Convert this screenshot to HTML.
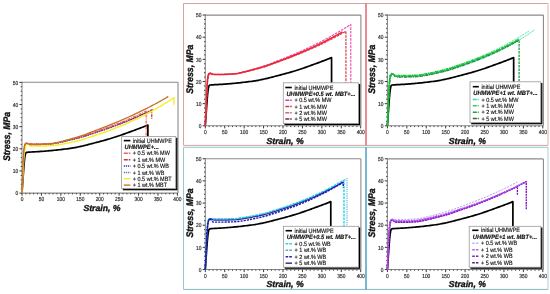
<!DOCTYPE html>
<html><head><meta charset="utf-8"><title>Stress-strain curves</title>
<style>
html,body{margin:0;padding:0;background:#fff;}
body{width:550px;height:294px;overflow:hidden;}
svg{display:block;font-family:"Liberation Sans", Arial, sans-serif;text-rendering:geometricPrecision;}
</style></head><body>
<svg width="550" height="294" viewBox="0 0 550 294">
<rect width="550" height="294" fill="#fff"/>
<line x1="183.5" y1="3.5" x2="548" y2="3.5" stroke="#d6a4a0" stroke-width="1"/>
<line x1="183.5" y1="145.4" x2="366" y2="145.4" stroke="#d6a4a0" stroke-width="1"/>
<line x1="366" y1="145.4" x2="548" y2="145.4" stroke="#d6a4a0" stroke-width="1"/>
<line x1="183.5" y1="3.5" x2="183.5" y2="145.4" stroke="#d6a4a0" stroke-width="1"/>
<line x1="548" y1="3.5" x2="548" y2="145.4" stroke="#dcb2b0" stroke-width="1"/>
<line x1="366" y1="3.5" x2="366" y2="145.4" stroke="#e66470" stroke-width="1.5"/>
<line x1="183.5" y1="147.3" x2="548" y2="147.3" stroke="#96c8cc" stroke-width="1"/>
<line x1="183.5" y1="289.4" x2="548" y2="289.4" stroke="#82b8c4" stroke-width="1"/>
<line x1="183.5" y1="147.3" x2="183.5" y2="289.4" stroke="#96c8cc" stroke-width="1"/>
<line x1="548" y1="147.3" x2="548" y2="289.4" stroke="#a8d0d8" stroke-width="1"/>
<line x1="366" y1="147.3" x2="366" y2="289.4" stroke="#4aa0c8" stroke-width="1.5"/>
<line x1="22" y1="82.3" x2="178" y2="82.3" stroke="#8a8a8a" stroke-width="1.1"/>
<line x1="178" y1="82.3" x2="178" y2="193.1" stroke="#8a8a8a" stroke-width="1.1"/>
<line x1="22" y1="81.8" x2="22" y2="193.6" stroke="#8a8a8a" stroke-width="1.1"/>
<line x1="22" y1="193.1" x2="178" y2="193.1" stroke="#8a8a8a" stroke-width="1.1"/>
<line x1="19.4" y1="193.1" x2="22" y2="193.1" stroke="#222" stroke-width="0.9"/>
<text x="0" y="0" transform="translate(18.1 195.3) scale(0.84 1)" font-size="5.8" text-anchor="end" font-weight="normal" font-style="normal" fill="#2a2a2a" stroke="#2a2a2a" stroke-width="0.18">0</text>
<line x1="20.7" y1="188.67" x2="22" y2="188.67" stroke="#333" stroke-width="0.9"/>
<line x1="20.7" y1="184.24" x2="22" y2="184.24" stroke="#333" stroke-width="0.9"/>
<line x1="20.7" y1="179.81" x2="22" y2="179.81" stroke="#333" stroke-width="0.9"/>
<line x1="20.7" y1="175.38" x2="22" y2="175.38" stroke="#333" stroke-width="0.9"/>
<line x1="19.4" y1="170.95" x2="22" y2="170.95" stroke="#222" stroke-width="0.9"/>
<text x="0" y="0" transform="translate(18.1 173.15) scale(0.84 1)" font-size="5.8" text-anchor="end" font-weight="normal" font-style="normal" fill="#2a2a2a" stroke="#2a2a2a" stroke-width="0.18">10</text>
<line x1="20.7" y1="166.52" x2="22" y2="166.52" stroke="#333" stroke-width="0.9"/>
<line x1="20.7" y1="162.09" x2="22" y2="162.09" stroke="#333" stroke-width="0.9"/>
<line x1="20.7" y1="157.66" x2="22" y2="157.66" stroke="#333" stroke-width="0.9"/>
<line x1="20.7" y1="153.23" x2="22" y2="153.23" stroke="#333" stroke-width="0.9"/>
<line x1="19.4" y1="148.8" x2="22" y2="148.8" stroke="#222" stroke-width="0.9"/>
<text x="0" y="0" transform="translate(18.1 151) scale(0.84 1)" font-size="5.8" text-anchor="end" font-weight="normal" font-style="normal" fill="#2a2a2a" stroke="#2a2a2a" stroke-width="0.18">20</text>
<line x1="20.7" y1="144.37" x2="22" y2="144.37" stroke="#333" stroke-width="0.9"/>
<line x1="20.7" y1="139.94" x2="22" y2="139.94" stroke="#333" stroke-width="0.9"/>
<line x1="20.7" y1="135.51" x2="22" y2="135.51" stroke="#333" stroke-width="0.9"/>
<line x1="20.7" y1="131.08" x2="22" y2="131.08" stroke="#333" stroke-width="0.9"/>
<line x1="19.4" y1="126.65" x2="22" y2="126.65" stroke="#222" stroke-width="0.9"/>
<text x="0" y="0" transform="translate(18.1 128.85) scale(0.84 1)" font-size="5.8" text-anchor="end" font-weight="normal" font-style="normal" fill="#2a2a2a" stroke="#2a2a2a" stroke-width="0.18">30</text>
<line x1="20.7" y1="122.22" x2="22" y2="122.22" stroke="#333" stroke-width="0.9"/>
<line x1="20.7" y1="117.79" x2="22" y2="117.79" stroke="#333" stroke-width="0.9"/>
<line x1="20.7" y1="113.36" x2="22" y2="113.36" stroke="#333" stroke-width="0.9"/>
<line x1="20.7" y1="108.93" x2="22" y2="108.93" stroke="#333" stroke-width="0.9"/>
<line x1="19.4" y1="104.5" x2="22" y2="104.5" stroke="#222" stroke-width="0.9"/>
<text x="0" y="0" transform="translate(18.1 106.7) scale(0.84 1)" font-size="5.8" text-anchor="end" font-weight="normal" font-style="normal" fill="#2a2a2a" stroke="#2a2a2a" stroke-width="0.18">40</text>
<line x1="20.7" y1="100.07" x2="22" y2="100.07" stroke="#333" stroke-width="0.9"/>
<line x1="20.7" y1="95.64" x2="22" y2="95.64" stroke="#333" stroke-width="0.9"/>
<line x1="20.7" y1="91.21" x2="22" y2="91.21" stroke="#333" stroke-width="0.9"/>
<line x1="20.7" y1="86.78" x2="22" y2="86.78" stroke="#333" stroke-width="0.9"/>
<line x1="19.4" y1="82.35" x2="22" y2="82.35" stroke="#222" stroke-width="0.9"/>
<text x="0" y="0" transform="translate(18.1 84.55) scale(0.84 1)" font-size="5.8" text-anchor="end" font-weight="normal" font-style="normal" fill="#2a2a2a" stroke="#2a2a2a" stroke-width="0.18">50</text>
<line x1="22" y1="193.1" x2="22" y2="195.7" stroke="#222" stroke-width="0.9"/>
<text x="0" y="0" transform="translate(22 201.1) scale(0.84 1)" font-size="5.8" text-anchor="middle" font-weight="normal" font-style="normal" fill="#2a2a2a" stroke="#2a2a2a" stroke-width="0.18">0</text>
<line x1="25.89" y1="193.1" x2="25.89" y2="194.4" stroke="#333" stroke-width="0.9"/>
<line x1="29.77" y1="193.1" x2="29.77" y2="194.4" stroke="#333" stroke-width="0.9"/>
<line x1="33.66" y1="193.1" x2="33.66" y2="194.4" stroke="#333" stroke-width="0.9"/>
<line x1="37.54" y1="193.1" x2="37.54" y2="194.4" stroke="#333" stroke-width="0.9"/>
<line x1="41.42" y1="193.1" x2="41.42" y2="195.7" stroke="#222" stroke-width="0.9"/>
<text x="0" y="0" transform="translate(41.42 201.1) scale(0.84 1)" font-size="5.8" text-anchor="middle" font-weight="normal" font-style="normal" fill="#2a2a2a" stroke="#2a2a2a" stroke-width="0.18">50</text>
<line x1="45.31" y1="193.1" x2="45.31" y2="194.4" stroke="#333" stroke-width="0.9"/>
<line x1="49.2" y1="193.1" x2="49.2" y2="194.4" stroke="#333" stroke-width="0.9"/>
<line x1="53.08" y1="193.1" x2="53.08" y2="194.4" stroke="#333" stroke-width="0.9"/>
<line x1="56.97" y1="193.1" x2="56.97" y2="194.4" stroke="#333" stroke-width="0.9"/>
<line x1="60.85" y1="193.1" x2="60.85" y2="195.7" stroke="#222" stroke-width="0.9"/>
<text x="0" y="0" transform="translate(60.85 201.1) scale(0.84 1)" font-size="5.8" text-anchor="middle" font-weight="normal" font-style="normal" fill="#2a2a2a" stroke="#2a2a2a" stroke-width="0.18">100</text>
<line x1="64.73" y1="193.1" x2="64.73" y2="194.4" stroke="#333" stroke-width="0.9"/>
<line x1="68.62" y1="193.1" x2="68.62" y2="194.4" stroke="#333" stroke-width="0.9"/>
<line x1="72.5" y1="193.1" x2="72.5" y2="194.4" stroke="#333" stroke-width="0.9"/>
<line x1="76.39" y1="193.1" x2="76.39" y2="194.4" stroke="#333" stroke-width="0.9"/>
<line x1="80.28" y1="193.1" x2="80.28" y2="195.7" stroke="#222" stroke-width="0.9"/>
<text x="0" y="0" transform="translate(80.28 201.1) scale(0.84 1)" font-size="5.8" text-anchor="middle" font-weight="normal" font-style="normal" fill="#2a2a2a" stroke="#2a2a2a" stroke-width="0.18">150</text>
<line x1="84.16" y1="193.1" x2="84.16" y2="194.4" stroke="#333" stroke-width="0.9"/>
<line x1="88.05" y1="193.1" x2="88.05" y2="194.4" stroke="#333" stroke-width="0.9"/>
<line x1="91.93" y1="193.1" x2="91.93" y2="194.4" stroke="#333" stroke-width="0.9"/>
<line x1="95.81" y1="193.1" x2="95.81" y2="194.4" stroke="#333" stroke-width="0.9"/>
<line x1="99.7" y1="193.1" x2="99.7" y2="195.7" stroke="#222" stroke-width="0.9"/>
<text x="0" y="0" transform="translate(99.7 201.1) scale(0.84 1)" font-size="5.8" text-anchor="middle" font-weight="normal" font-style="normal" fill="#2a2a2a" stroke="#2a2a2a" stroke-width="0.18">200</text>
<line x1="103.59" y1="193.1" x2="103.59" y2="194.4" stroke="#333" stroke-width="0.9"/>
<line x1="107.47" y1="193.1" x2="107.47" y2="194.4" stroke="#333" stroke-width="0.9"/>
<line x1="111.36" y1="193.1" x2="111.36" y2="194.4" stroke="#333" stroke-width="0.9"/>
<line x1="115.24" y1="193.1" x2="115.24" y2="194.4" stroke="#333" stroke-width="0.9"/>
<line x1="119.12" y1="193.1" x2="119.12" y2="195.7" stroke="#222" stroke-width="0.9"/>
<text x="0" y="0" transform="translate(119.12 201.1) scale(0.84 1)" font-size="5.8" text-anchor="middle" font-weight="normal" font-style="normal" fill="#2a2a2a" stroke="#2a2a2a" stroke-width="0.18">250</text>
<line x1="123.01" y1="193.1" x2="123.01" y2="194.4" stroke="#333" stroke-width="0.9"/>
<line x1="126.9" y1="193.1" x2="126.9" y2="194.4" stroke="#333" stroke-width="0.9"/>
<line x1="130.78" y1="193.1" x2="130.78" y2="194.4" stroke="#333" stroke-width="0.9"/>
<line x1="134.67" y1="193.1" x2="134.67" y2="194.4" stroke="#333" stroke-width="0.9"/>
<line x1="138.55" y1="193.1" x2="138.55" y2="195.7" stroke="#222" stroke-width="0.9"/>
<text x="0" y="0" transform="translate(138.55 201.1) scale(0.84 1)" font-size="5.8" text-anchor="middle" font-weight="normal" font-style="normal" fill="#2a2a2a" stroke="#2a2a2a" stroke-width="0.18">300</text>
<line x1="142.44" y1="193.1" x2="142.44" y2="194.4" stroke="#333" stroke-width="0.9"/>
<line x1="146.32" y1="193.1" x2="146.32" y2="194.4" stroke="#333" stroke-width="0.9"/>
<line x1="150.21" y1="193.1" x2="150.21" y2="194.4" stroke="#333" stroke-width="0.9"/>
<line x1="154.09" y1="193.1" x2="154.09" y2="194.4" stroke="#333" stroke-width="0.9"/>
<line x1="157.97" y1="193.1" x2="157.97" y2="195.7" stroke="#222" stroke-width="0.9"/>
<text x="0" y="0" transform="translate(157.97 201.1) scale(0.84 1)" font-size="5.8" text-anchor="middle" font-weight="normal" font-style="normal" fill="#2a2a2a" stroke="#2a2a2a" stroke-width="0.18">350</text>
<line x1="161.86" y1="193.1" x2="161.86" y2="194.4" stroke="#333" stroke-width="0.9"/>
<line x1="165.75" y1="193.1" x2="165.75" y2="194.4" stroke="#333" stroke-width="0.9"/>
<line x1="169.63" y1="193.1" x2="169.63" y2="194.4" stroke="#333" stroke-width="0.9"/>
<line x1="173.52" y1="193.1" x2="173.52" y2="194.4" stroke="#333" stroke-width="0.9"/>
<line x1="177.4" y1="193.1" x2="177.4" y2="195.7" stroke="#222" stroke-width="0.9"/>
<text x="0" y="0" transform="translate(177.4 201.1) scale(0.84 1)" font-size="5.8" text-anchor="middle" font-weight="normal" font-style="normal" fill="#2a2a2a" stroke="#2a2a2a" stroke-width="0.18">400</text>
<text x="102" y="210.9" font-size="8.7" text-anchor="middle" font-weight="bold" font-style="italic" fill="#111" stroke="#111" stroke-width="0.35">Strain, %</text>
<text x="0" y="0" font-size="9.6" text-anchor="middle" font-weight="bold" font-style="italic" fill="#111" stroke="#111" stroke-width="0.35" transform="translate(9.6 136.5) rotate(-90) scale(0.905 1)">Stress, MPa</text>
<line x1="205.3" y1="15.1" x2="360.9" y2="15.1" stroke="#8a8a8a" stroke-width="1.1"/>
<line x1="360.9" y1="15.1" x2="360.9" y2="125.8" stroke="#8a8a8a" stroke-width="1.1"/>
<line x1="205.3" y1="14.6" x2="205.3" y2="126.3" stroke="#8a8a8a" stroke-width="1.1"/>
<line x1="205.3" y1="125.8" x2="360.9" y2="125.8" stroke="#8a8a8a" stroke-width="1.1"/>
<line x1="202.7" y1="125.8" x2="205.3" y2="125.8" stroke="#222" stroke-width="0.9"/>
<text x="0" y="0" transform="translate(201.4 128) scale(0.84 1)" font-size="5.8" text-anchor="end" font-weight="normal" font-style="normal" fill="#2a2a2a" stroke="#2a2a2a" stroke-width="0.18">0</text>
<line x1="204" y1="121.37" x2="205.3" y2="121.37" stroke="#333" stroke-width="0.9"/>
<line x1="204" y1="116.94" x2="205.3" y2="116.94" stroke="#333" stroke-width="0.9"/>
<line x1="204" y1="112.51" x2="205.3" y2="112.51" stroke="#333" stroke-width="0.9"/>
<line x1="204" y1="108.08" x2="205.3" y2="108.08" stroke="#333" stroke-width="0.9"/>
<line x1="202.7" y1="103.65" x2="205.3" y2="103.65" stroke="#222" stroke-width="0.9"/>
<text x="0" y="0" transform="translate(201.4 105.85) scale(0.84 1)" font-size="5.8" text-anchor="end" font-weight="normal" font-style="normal" fill="#2a2a2a" stroke="#2a2a2a" stroke-width="0.18">10</text>
<line x1="204" y1="99.22" x2="205.3" y2="99.22" stroke="#333" stroke-width="0.9"/>
<line x1="204" y1="94.79" x2="205.3" y2="94.79" stroke="#333" stroke-width="0.9"/>
<line x1="204" y1="90.36" x2="205.3" y2="90.36" stroke="#333" stroke-width="0.9"/>
<line x1="204" y1="85.93" x2="205.3" y2="85.93" stroke="#333" stroke-width="0.9"/>
<line x1="202.7" y1="81.5" x2="205.3" y2="81.5" stroke="#222" stroke-width="0.9"/>
<text x="0" y="0" transform="translate(201.4 83.7) scale(0.84 1)" font-size="5.8" text-anchor="end" font-weight="normal" font-style="normal" fill="#2a2a2a" stroke="#2a2a2a" stroke-width="0.18">20</text>
<line x1="204" y1="77.07" x2="205.3" y2="77.07" stroke="#333" stroke-width="0.9"/>
<line x1="204" y1="72.64" x2="205.3" y2="72.64" stroke="#333" stroke-width="0.9"/>
<line x1="204" y1="68.21" x2="205.3" y2="68.21" stroke="#333" stroke-width="0.9"/>
<line x1="204" y1="63.78" x2="205.3" y2="63.78" stroke="#333" stroke-width="0.9"/>
<line x1="202.7" y1="59.35" x2="205.3" y2="59.35" stroke="#222" stroke-width="0.9"/>
<text x="0" y="0" transform="translate(201.4 61.55) scale(0.84 1)" font-size="5.8" text-anchor="end" font-weight="normal" font-style="normal" fill="#2a2a2a" stroke="#2a2a2a" stroke-width="0.18">30</text>
<line x1="204" y1="54.92" x2="205.3" y2="54.92" stroke="#333" stroke-width="0.9"/>
<line x1="204" y1="50.49" x2="205.3" y2="50.49" stroke="#333" stroke-width="0.9"/>
<line x1="204" y1="46.06" x2="205.3" y2="46.06" stroke="#333" stroke-width="0.9"/>
<line x1="204" y1="41.63" x2="205.3" y2="41.63" stroke="#333" stroke-width="0.9"/>
<line x1="202.7" y1="37.2" x2="205.3" y2="37.2" stroke="#222" stroke-width="0.9"/>
<text x="0" y="0" transform="translate(201.4 39.4) scale(0.84 1)" font-size="5.8" text-anchor="end" font-weight="normal" font-style="normal" fill="#2a2a2a" stroke="#2a2a2a" stroke-width="0.18">40</text>
<line x1="204" y1="32.77" x2="205.3" y2="32.77" stroke="#333" stroke-width="0.9"/>
<line x1="204" y1="28.34" x2="205.3" y2="28.34" stroke="#333" stroke-width="0.9"/>
<line x1="204" y1="23.91" x2="205.3" y2="23.91" stroke="#333" stroke-width="0.9"/>
<line x1="204" y1="19.48" x2="205.3" y2="19.48" stroke="#333" stroke-width="0.9"/>
<line x1="202.7" y1="15.05" x2="205.3" y2="15.05" stroke="#222" stroke-width="0.9"/>
<text x="0" y="0" transform="translate(201.4 17.25) scale(0.84 1)" font-size="5.8" text-anchor="end" font-weight="normal" font-style="normal" fill="#2a2a2a" stroke="#2a2a2a" stroke-width="0.18">50</text>
<line x1="205.3" y1="125.8" x2="205.3" y2="128.4" stroke="#222" stroke-width="0.9"/>
<text x="0" y="0" transform="translate(205.3 133.8) scale(0.84 1)" font-size="5.8" text-anchor="middle" font-weight="normal" font-style="normal" fill="#2a2a2a" stroke="#2a2a2a" stroke-width="0.18">0</text>
<line x1="209.19" y1="125.8" x2="209.19" y2="127.1" stroke="#333" stroke-width="0.9"/>
<line x1="213.07" y1="125.8" x2="213.07" y2="127.1" stroke="#333" stroke-width="0.9"/>
<line x1="216.96" y1="125.8" x2="216.96" y2="127.1" stroke="#333" stroke-width="0.9"/>
<line x1="220.84" y1="125.8" x2="220.84" y2="127.1" stroke="#333" stroke-width="0.9"/>
<line x1="224.73" y1="125.8" x2="224.73" y2="128.4" stroke="#222" stroke-width="0.9"/>
<text x="0" y="0" transform="translate(224.73 133.8) scale(0.84 1)" font-size="5.8" text-anchor="middle" font-weight="normal" font-style="normal" fill="#2a2a2a" stroke="#2a2a2a" stroke-width="0.18">50</text>
<line x1="228.61" y1="125.8" x2="228.61" y2="127.1" stroke="#333" stroke-width="0.9"/>
<line x1="232.5" y1="125.8" x2="232.5" y2="127.1" stroke="#333" stroke-width="0.9"/>
<line x1="236.38" y1="125.8" x2="236.38" y2="127.1" stroke="#333" stroke-width="0.9"/>
<line x1="240.27" y1="125.8" x2="240.27" y2="127.1" stroke="#333" stroke-width="0.9"/>
<line x1="244.15" y1="125.8" x2="244.15" y2="128.4" stroke="#222" stroke-width="0.9"/>
<text x="0" y="0" transform="translate(244.15 133.8) scale(0.84 1)" font-size="5.8" text-anchor="middle" font-weight="normal" font-style="normal" fill="#2a2a2a" stroke="#2a2a2a" stroke-width="0.18">100</text>
<line x1="248.04" y1="125.8" x2="248.04" y2="127.1" stroke="#333" stroke-width="0.9"/>
<line x1="251.92" y1="125.8" x2="251.92" y2="127.1" stroke="#333" stroke-width="0.9"/>
<line x1="255.81" y1="125.8" x2="255.81" y2="127.1" stroke="#333" stroke-width="0.9"/>
<line x1="259.69" y1="125.8" x2="259.69" y2="127.1" stroke="#333" stroke-width="0.9"/>
<line x1="263.57" y1="125.8" x2="263.57" y2="128.4" stroke="#222" stroke-width="0.9"/>
<text x="0" y="0" transform="translate(263.57 133.8) scale(0.84 1)" font-size="5.8" text-anchor="middle" font-weight="normal" font-style="normal" fill="#2a2a2a" stroke="#2a2a2a" stroke-width="0.18">150</text>
<line x1="267.46" y1="125.8" x2="267.46" y2="127.1" stroke="#333" stroke-width="0.9"/>
<line x1="271.35" y1="125.8" x2="271.35" y2="127.1" stroke="#333" stroke-width="0.9"/>
<line x1="275.23" y1="125.8" x2="275.23" y2="127.1" stroke="#333" stroke-width="0.9"/>
<line x1="279.12" y1="125.8" x2="279.12" y2="127.1" stroke="#333" stroke-width="0.9"/>
<line x1="283" y1="125.8" x2="283" y2="128.4" stroke="#222" stroke-width="0.9"/>
<text x="0" y="0" transform="translate(283 133.8) scale(0.84 1)" font-size="5.8" text-anchor="middle" font-weight="normal" font-style="normal" fill="#2a2a2a" stroke="#2a2a2a" stroke-width="0.18">200</text>
<line x1="286.88" y1="125.8" x2="286.88" y2="127.1" stroke="#333" stroke-width="0.9"/>
<line x1="290.77" y1="125.8" x2="290.77" y2="127.1" stroke="#333" stroke-width="0.9"/>
<line x1="294.66" y1="125.8" x2="294.66" y2="127.1" stroke="#333" stroke-width="0.9"/>
<line x1="298.54" y1="125.8" x2="298.54" y2="127.1" stroke="#333" stroke-width="0.9"/>
<line x1="302.43" y1="125.8" x2="302.43" y2="128.4" stroke="#222" stroke-width="0.9"/>
<text x="0" y="0" transform="translate(302.43 133.8) scale(0.84 1)" font-size="5.8" text-anchor="middle" font-weight="normal" font-style="normal" fill="#2a2a2a" stroke="#2a2a2a" stroke-width="0.18">250</text>
<line x1="306.31" y1="125.8" x2="306.31" y2="127.1" stroke="#333" stroke-width="0.9"/>
<line x1="310.2" y1="125.8" x2="310.2" y2="127.1" stroke="#333" stroke-width="0.9"/>
<line x1="314.08" y1="125.8" x2="314.08" y2="127.1" stroke="#333" stroke-width="0.9"/>
<line x1="317.97" y1="125.8" x2="317.97" y2="127.1" stroke="#333" stroke-width="0.9"/>
<line x1="321.85" y1="125.8" x2="321.85" y2="128.4" stroke="#222" stroke-width="0.9"/>
<text x="0" y="0" transform="translate(321.85 133.8) scale(0.84 1)" font-size="5.8" text-anchor="middle" font-weight="normal" font-style="normal" fill="#2a2a2a" stroke="#2a2a2a" stroke-width="0.18">300</text>
<line x1="325.74" y1="125.8" x2="325.74" y2="127.1" stroke="#333" stroke-width="0.9"/>
<line x1="329.62" y1="125.8" x2="329.62" y2="127.1" stroke="#333" stroke-width="0.9"/>
<line x1="333.5" y1="125.8" x2="333.5" y2="127.1" stroke="#333" stroke-width="0.9"/>
<line x1="337.39" y1="125.8" x2="337.39" y2="127.1" stroke="#333" stroke-width="0.9"/>
<line x1="341.27" y1="125.8" x2="341.27" y2="128.4" stroke="#222" stroke-width="0.9"/>
<text x="0" y="0" transform="translate(341.27 133.8) scale(0.84 1)" font-size="5.8" text-anchor="middle" font-weight="normal" font-style="normal" fill="#2a2a2a" stroke="#2a2a2a" stroke-width="0.18">350</text>
<line x1="345.16" y1="125.8" x2="345.16" y2="127.1" stroke="#333" stroke-width="0.9"/>
<line x1="349.05" y1="125.8" x2="349.05" y2="127.1" stroke="#333" stroke-width="0.9"/>
<line x1="352.93" y1="125.8" x2="352.93" y2="127.1" stroke="#333" stroke-width="0.9"/>
<line x1="356.82" y1="125.8" x2="356.82" y2="127.1" stroke="#333" stroke-width="0.9"/>
<line x1="360.7" y1="125.8" x2="360.7" y2="128.4" stroke="#222" stroke-width="0.9"/>
<text x="0" y="0" transform="translate(360.7 133.8) scale(0.84 1)" font-size="5.8" text-anchor="middle" font-weight="normal" font-style="normal" fill="#2a2a2a" stroke="#2a2a2a" stroke-width="0.18">400</text>
<text x="285.1" y="143.6" font-size="8.7" text-anchor="middle" font-weight="bold" font-style="italic" fill="#111" stroke="#111" stroke-width="0.35">Strain, %</text>
<text x="0" y="0" font-size="9.6" text-anchor="middle" font-weight="bold" font-style="italic" fill="#111" stroke="#111" stroke-width="0.35" transform="translate(192.9 69.25) rotate(-90) scale(0.905 1)">Stress, MPa</text>
<line x1="387.4" y1="15.1" x2="543.4" y2="15.1" stroke="#8a8a8a" stroke-width="1.1"/>
<line x1="543.4" y1="15.1" x2="543.4" y2="125.8" stroke="#8a8a8a" stroke-width="1.1"/>
<line x1="387.4" y1="14.6" x2="387.4" y2="126.3" stroke="#8a8a8a" stroke-width="1.1"/>
<line x1="387.4" y1="125.8" x2="543.4" y2="125.8" stroke="#8a8a8a" stroke-width="1.1"/>
<line x1="384.8" y1="125.8" x2="387.4" y2="125.8" stroke="#222" stroke-width="0.9"/>
<text x="0" y="0" transform="translate(383.5 128) scale(0.84 1)" font-size="5.8" text-anchor="end" font-weight="normal" font-style="normal" fill="#2a2a2a" stroke="#2a2a2a" stroke-width="0.18">0</text>
<line x1="386.1" y1="121.37" x2="387.4" y2="121.37" stroke="#333" stroke-width="0.9"/>
<line x1="386.1" y1="116.94" x2="387.4" y2="116.94" stroke="#333" stroke-width="0.9"/>
<line x1="386.1" y1="112.51" x2="387.4" y2="112.51" stroke="#333" stroke-width="0.9"/>
<line x1="386.1" y1="108.08" x2="387.4" y2="108.08" stroke="#333" stroke-width="0.9"/>
<line x1="384.8" y1="103.65" x2="387.4" y2="103.65" stroke="#222" stroke-width="0.9"/>
<text x="0" y="0" transform="translate(383.5 105.85) scale(0.84 1)" font-size="5.8" text-anchor="end" font-weight="normal" font-style="normal" fill="#2a2a2a" stroke="#2a2a2a" stroke-width="0.18">10</text>
<line x1="386.1" y1="99.22" x2="387.4" y2="99.22" stroke="#333" stroke-width="0.9"/>
<line x1="386.1" y1="94.79" x2="387.4" y2="94.79" stroke="#333" stroke-width="0.9"/>
<line x1="386.1" y1="90.36" x2="387.4" y2="90.36" stroke="#333" stroke-width="0.9"/>
<line x1="386.1" y1="85.93" x2="387.4" y2="85.93" stroke="#333" stroke-width="0.9"/>
<line x1="384.8" y1="81.5" x2="387.4" y2="81.5" stroke="#222" stroke-width="0.9"/>
<text x="0" y="0" transform="translate(383.5 83.7) scale(0.84 1)" font-size="5.8" text-anchor="end" font-weight="normal" font-style="normal" fill="#2a2a2a" stroke="#2a2a2a" stroke-width="0.18">20</text>
<line x1="386.1" y1="77.07" x2="387.4" y2="77.07" stroke="#333" stroke-width="0.9"/>
<line x1="386.1" y1="72.64" x2="387.4" y2="72.64" stroke="#333" stroke-width="0.9"/>
<line x1="386.1" y1="68.21" x2="387.4" y2="68.21" stroke="#333" stroke-width="0.9"/>
<line x1="386.1" y1="63.78" x2="387.4" y2="63.78" stroke="#333" stroke-width="0.9"/>
<line x1="384.8" y1="59.35" x2="387.4" y2="59.35" stroke="#222" stroke-width="0.9"/>
<text x="0" y="0" transform="translate(383.5 61.55) scale(0.84 1)" font-size="5.8" text-anchor="end" font-weight="normal" font-style="normal" fill="#2a2a2a" stroke="#2a2a2a" stroke-width="0.18">30</text>
<line x1="386.1" y1="54.92" x2="387.4" y2="54.92" stroke="#333" stroke-width="0.9"/>
<line x1="386.1" y1="50.49" x2="387.4" y2="50.49" stroke="#333" stroke-width="0.9"/>
<line x1="386.1" y1="46.06" x2="387.4" y2="46.06" stroke="#333" stroke-width="0.9"/>
<line x1="386.1" y1="41.63" x2="387.4" y2="41.63" stroke="#333" stroke-width="0.9"/>
<line x1="384.8" y1="37.2" x2="387.4" y2="37.2" stroke="#222" stroke-width="0.9"/>
<text x="0" y="0" transform="translate(383.5 39.4) scale(0.84 1)" font-size="5.8" text-anchor="end" font-weight="normal" font-style="normal" fill="#2a2a2a" stroke="#2a2a2a" stroke-width="0.18">40</text>
<line x1="386.1" y1="32.77" x2="387.4" y2="32.77" stroke="#333" stroke-width="0.9"/>
<line x1="386.1" y1="28.34" x2="387.4" y2="28.34" stroke="#333" stroke-width="0.9"/>
<line x1="386.1" y1="23.91" x2="387.4" y2="23.91" stroke="#333" stroke-width="0.9"/>
<line x1="386.1" y1="19.48" x2="387.4" y2="19.48" stroke="#333" stroke-width="0.9"/>
<line x1="384.8" y1="15.05" x2="387.4" y2="15.05" stroke="#222" stroke-width="0.9"/>
<text x="0" y="0" transform="translate(383.5 17.25) scale(0.84 1)" font-size="5.8" text-anchor="end" font-weight="normal" font-style="normal" fill="#2a2a2a" stroke="#2a2a2a" stroke-width="0.18">50</text>
<line x1="387.4" y1="125.8" x2="387.4" y2="128.4" stroke="#222" stroke-width="0.9"/>
<text x="0" y="0" transform="translate(387.4 133.8) scale(0.84 1)" font-size="5.8" text-anchor="middle" font-weight="normal" font-style="normal" fill="#2a2a2a" stroke="#2a2a2a" stroke-width="0.18">0</text>
<line x1="391.28" y1="125.8" x2="391.28" y2="127.1" stroke="#333" stroke-width="0.9"/>
<line x1="395.17" y1="125.8" x2="395.17" y2="127.1" stroke="#333" stroke-width="0.9"/>
<line x1="399.05" y1="125.8" x2="399.05" y2="127.1" stroke="#333" stroke-width="0.9"/>
<line x1="402.94" y1="125.8" x2="402.94" y2="127.1" stroke="#333" stroke-width="0.9"/>
<line x1="406.82" y1="125.8" x2="406.82" y2="128.4" stroke="#222" stroke-width="0.9"/>
<text x="0" y="0" transform="translate(406.82 133.8) scale(0.84 1)" font-size="5.8" text-anchor="middle" font-weight="normal" font-style="normal" fill="#2a2a2a" stroke="#2a2a2a" stroke-width="0.18">50</text>
<line x1="410.71" y1="125.8" x2="410.71" y2="127.1" stroke="#333" stroke-width="0.9"/>
<line x1="414.59" y1="125.8" x2="414.59" y2="127.1" stroke="#333" stroke-width="0.9"/>
<line x1="418.48" y1="125.8" x2="418.48" y2="127.1" stroke="#333" stroke-width="0.9"/>
<line x1="422.37" y1="125.8" x2="422.37" y2="127.1" stroke="#333" stroke-width="0.9"/>
<line x1="426.25" y1="125.8" x2="426.25" y2="128.4" stroke="#222" stroke-width="0.9"/>
<text x="0" y="0" transform="translate(426.25 133.8) scale(0.84 1)" font-size="5.8" text-anchor="middle" font-weight="normal" font-style="normal" fill="#2a2a2a" stroke="#2a2a2a" stroke-width="0.18">100</text>
<line x1="430.13" y1="125.8" x2="430.13" y2="127.1" stroke="#333" stroke-width="0.9"/>
<line x1="434.02" y1="125.8" x2="434.02" y2="127.1" stroke="#333" stroke-width="0.9"/>
<line x1="437.9" y1="125.8" x2="437.9" y2="127.1" stroke="#333" stroke-width="0.9"/>
<line x1="441.79" y1="125.8" x2="441.79" y2="127.1" stroke="#333" stroke-width="0.9"/>
<line x1="445.67" y1="125.8" x2="445.67" y2="128.4" stroke="#222" stroke-width="0.9"/>
<text x="0" y="0" transform="translate(445.67 133.8) scale(0.84 1)" font-size="5.8" text-anchor="middle" font-weight="normal" font-style="normal" fill="#2a2a2a" stroke="#2a2a2a" stroke-width="0.18">150</text>
<line x1="449.56" y1="125.8" x2="449.56" y2="127.1" stroke="#333" stroke-width="0.9"/>
<line x1="453.44" y1="125.8" x2="453.44" y2="127.1" stroke="#333" stroke-width="0.9"/>
<line x1="457.33" y1="125.8" x2="457.33" y2="127.1" stroke="#333" stroke-width="0.9"/>
<line x1="461.21" y1="125.8" x2="461.21" y2="127.1" stroke="#333" stroke-width="0.9"/>
<line x1="465.1" y1="125.8" x2="465.1" y2="128.4" stroke="#222" stroke-width="0.9"/>
<text x="0" y="0" transform="translate(465.1 133.8) scale(0.84 1)" font-size="5.8" text-anchor="middle" font-weight="normal" font-style="normal" fill="#2a2a2a" stroke="#2a2a2a" stroke-width="0.18">200</text>
<line x1="468.99" y1="125.8" x2="468.99" y2="127.1" stroke="#333" stroke-width="0.9"/>
<line x1="472.87" y1="125.8" x2="472.87" y2="127.1" stroke="#333" stroke-width="0.9"/>
<line x1="476.75" y1="125.8" x2="476.75" y2="127.1" stroke="#333" stroke-width="0.9"/>
<line x1="480.64" y1="125.8" x2="480.64" y2="127.1" stroke="#333" stroke-width="0.9"/>
<line x1="484.52" y1="125.8" x2="484.52" y2="128.4" stroke="#222" stroke-width="0.9"/>
<text x="0" y="0" transform="translate(484.52 133.8) scale(0.84 1)" font-size="5.8" text-anchor="middle" font-weight="normal" font-style="normal" fill="#2a2a2a" stroke="#2a2a2a" stroke-width="0.18">250</text>
<line x1="488.41" y1="125.8" x2="488.41" y2="127.1" stroke="#333" stroke-width="0.9"/>
<line x1="492.29" y1="125.8" x2="492.29" y2="127.1" stroke="#333" stroke-width="0.9"/>
<line x1="496.18" y1="125.8" x2="496.18" y2="127.1" stroke="#333" stroke-width="0.9"/>
<line x1="500.06" y1="125.8" x2="500.06" y2="127.1" stroke="#333" stroke-width="0.9"/>
<line x1="503.95" y1="125.8" x2="503.95" y2="128.4" stroke="#222" stroke-width="0.9"/>
<text x="0" y="0" transform="translate(503.95 133.8) scale(0.84 1)" font-size="5.8" text-anchor="middle" font-weight="normal" font-style="normal" fill="#2a2a2a" stroke="#2a2a2a" stroke-width="0.18">300</text>
<line x1="507.83" y1="125.8" x2="507.83" y2="127.1" stroke="#333" stroke-width="0.9"/>
<line x1="511.72" y1="125.8" x2="511.72" y2="127.1" stroke="#333" stroke-width="0.9"/>
<line x1="515.61" y1="125.8" x2="515.61" y2="127.1" stroke="#333" stroke-width="0.9"/>
<line x1="519.49" y1="125.8" x2="519.49" y2="127.1" stroke="#333" stroke-width="0.9"/>
<line x1="523.38" y1="125.8" x2="523.38" y2="128.4" stroke="#222" stroke-width="0.9"/>
<text x="0" y="0" transform="translate(523.38 133.8) scale(0.84 1)" font-size="5.8" text-anchor="middle" font-weight="normal" font-style="normal" fill="#2a2a2a" stroke="#2a2a2a" stroke-width="0.18">350</text>
<line x1="527.26" y1="125.8" x2="527.26" y2="127.1" stroke="#333" stroke-width="0.9"/>
<line x1="531.14" y1="125.8" x2="531.14" y2="127.1" stroke="#333" stroke-width="0.9"/>
<line x1="535.03" y1="125.8" x2="535.03" y2="127.1" stroke="#333" stroke-width="0.9"/>
<line x1="538.91" y1="125.8" x2="538.91" y2="127.1" stroke="#333" stroke-width="0.9"/>
<line x1="542.8" y1="125.8" x2="542.8" y2="128.4" stroke="#222" stroke-width="0.9"/>
<text x="0" y="0" transform="translate(542.8 133.8) scale(0.84 1)" font-size="5.8" text-anchor="middle" font-weight="normal" font-style="normal" fill="#2a2a2a" stroke="#2a2a2a" stroke-width="0.18">400</text>
<text x="467.4" y="143.6" font-size="8.7" text-anchor="middle" font-weight="bold" font-style="italic" fill="#111" stroke="#111" stroke-width="0.35">Strain, %</text>
<text x="0" y="0" font-size="9.6" text-anchor="middle" font-weight="bold" font-style="italic" fill="#111" stroke="#111" stroke-width="0.35" transform="translate(375 69.25) rotate(-90) scale(0.905 1)">Stress, MPa</text>
<line x1="205.3" y1="158.8" x2="360.9" y2="158.8" stroke="#8a8a8a" stroke-width="1.1"/>
<line x1="360.9" y1="158.8" x2="360.9" y2="269.5" stroke="#8a8a8a" stroke-width="1.1"/>
<line x1="205.3" y1="158.3" x2="205.3" y2="270" stroke="#8a8a8a" stroke-width="1.1"/>
<line x1="205.3" y1="269.5" x2="360.9" y2="269.5" stroke="#8a8a8a" stroke-width="1.1"/>
<line x1="202.7" y1="269.5" x2="205.3" y2="269.5" stroke="#222" stroke-width="0.9"/>
<text x="0" y="0" transform="translate(201.4 271.7) scale(0.84 1)" font-size="5.8" text-anchor="end" font-weight="normal" font-style="normal" fill="#2a2a2a" stroke="#2a2a2a" stroke-width="0.18">0</text>
<line x1="204" y1="265.07" x2="205.3" y2="265.07" stroke="#333" stroke-width="0.9"/>
<line x1="204" y1="260.64" x2="205.3" y2="260.64" stroke="#333" stroke-width="0.9"/>
<line x1="204" y1="256.21" x2="205.3" y2="256.21" stroke="#333" stroke-width="0.9"/>
<line x1="204" y1="251.78" x2="205.3" y2="251.78" stroke="#333" stroke-width="0.9"/>
<line x1="202.7" y1="247.35" x2="205.3" y2="247.35" stroke="#222" stroke-width="0.9"/>
<text x="0" y="0" transform="translate(201.4 249.55) scale(0.84 1)" font-size="5.8" text-anchor="end" font-weight="normal" font-style="normal" fill="#2a2a2a" stroke="#2a2a2a" stroke-width="0.18">10</text>
<line x1="204" y1="242.92" x2="205.3" y2="242.92" stroke="#333" stroke-width="0.9"/>
<line x1="204" y1="238.49" x2="205.3" y2="238.49" stroke="#333" stroke-width="0.9"/>
<line x1="204" y1="234.06" x2="205.3" y2="234.06" stroke="#333" stroke-width="0.9"/>
<line x1="204" y1="229.63" x2="205.3" y2="229.63" stroke="#333" stroke-width="0.9"/>
<line x1="202.7" y1="225.2" x2="205.3" y2="225.2" stroke="#222" stroke-width="0.9"/>
<text x="0" y="0" transform="translate(201.4 227.4) scale(0.84 1)" font-size="5.8" text-anchor="end" font-weight="normal" font-style="normal" fill="#2a2a2a" stroke="#2a2a2a" stroke-width="0.18">20</text>
<line x1="204" y1="220.77" x2="205.3" y2="220.77" stroke="#333" stroke-width="0.9"/>
<line x1="204" y1="216.34" x2="205.3" y2="216.34" stroke="#333" stroke-width="0.9"/>
<line x1="204" y1="211.91" x2="205.3" y2="211.91" stroke="#333" stroke-width="0.9"/>
<line x1="204" y1="207.48" x2="205.3" y2="207.48" stroke="#333" stroke-width="0.9"/>
<line x1="202.7" y1="203.05" x2="205.3" y2="203.05" stroke="#222" stroke-width="0.9"/>
<text x="0" y="0" transform="translate(201.4 205.25) scale(0.84 1)" font-size="5.8" text-anchor="end" font-weight="normal" font-style="normal" fill="#2a2a2a" stroke="#2a2a2a" stroke-width="0.18">30</text>
<line x1="204" y1="198.62" x2="205.3" y2="198.62" stroke="#333" stroke-width="0.9"/>
<line x1="204" y1="194.19" x2="205.3" y2="194.19" stroke="#333" stroke-width="0.9"/>
<line x1="204" y1="189.76" x2="205.3" y2="189.76" stroke="#333" stroke-width="0.9"/>
<line x1="204" y1="185.33" x2="205.3" y2="185.33" stroke="#333" stroke-width="0.9"/>
<line x1="202.7" y1="180.9" x2="205.3" y2="180.9" stroke="#222" stroke-width="0.9"/>
<text x="0" y="0" transform="translate(201.4 183.1) scale(0.84 1)" font-size="5.8" text-anchor="end" font-weight="normal" font-style="normal" fill="#2a2a2a" stroke="#2a2a2a" stroke-width="0.18">40</text>
<line x1="204" y1="176.47" x2="205.3" y2="176.47" stroke="#333" stroke-width="0.9"/>
<line x1="204" y1="172.04" x2="205.3" y2="172.04" stroke="#333" stroke-width="0.9"/>
<line x1="204" y1="167.61" x2="205.3" y2="167.61" stroke="#333" stroke-width="0.9"/>
<line x1="204" y1="163.18" x2="205.3" y2="163.18" stroke="#333" stroke-width="0.9"/>
<line x1="202.7" y1="158.75" x2="205.3" y2="158.75" stroke="#222" stroke-width="0.9"/>
<text x="0" y="0" transform="translate(201.4 160.95) scale(0.84 1)" font-size="5.8" text-anchor="end" font-weight="normal" font-style="normal" fill="#2a2a2a" stroke="#2a2a2a" stroke-width="0.18">50</text>
<line x1="205.3" y1="269.5" x2="205.3" y2="272.1" stroke="#222" stroke-width="0.9"/>
<text x="0" y="0" transform="translate(205.3 277.5) scale(0.84 1)" font-size="5.8" text-anchor="middle" font-weight="normal" font-style="normal" fill="#2a2a2a" stroke="#2a2a2a" stroke-width="0.18">0</text>
<line x1="209.19" y1="269.5" x2="209.19" y2="270.8" stroke="#333" stroke-width="0.9"/>
<line x1="213.07" y1="269.5" x2="213.07" y2="270.8" stroke="#333" stroke-width="0.9"/>
<line x1="216.96" y1="269.5" x2="216.96" y2="270.8" stroke="#333" stroke-width="0.9"/>
<line x1="220.84" y1="269.5" x2="220.84" y2="270.8" stroke="#333" stroke-width="0.9"/>
<line x1="224.73" y1="269.5" x2="224.73" y2="272.1" stroke="#222" stroke-width="0.9"/>
<text x="0" y="0" transform="translate(224.73 277.5) scale(0.84 1)" font-size="5.8" text-anchor="middle" font-weight="normal" font-style="normal" fill="#2a2a2a" stroke="#2a2a2a" stroke-width="0.18">50</text>
<line x1="228.61" y1="269.5" x2="228.61" y2="270.8" stroke="#333" stroke-width="0.9"/>
<line x1="232.5" y1="269.5" x2="232.5" y2="270.8" stroke="#333" stroke-width="0.9"/>
<line x1="236.38" y1="269.5" x2="236.38" y2="270.8" stroke="#333" stroke-width="0.9"/>
<line x1="240.27" y1="269.5" x2="240.27" y2="270.8" stroke="#333" stroke-width="0.9"/>
<line x1="244.15" y1="269.5" x2="244.15" y2="272.1" stroke="#222" stroke-width="0.9"/>
<text x="0" y="0" transform="translate(244.15 277.5) scale(0.84 1)" font-size="5.8" text-anchor="middle" font-weight="normal" font-style="normal" fill="#2a2a2a" stroke="#2a2a2a" stroke-width="0.18">100</text>
<line x1="248.04" y1="269.5" x2="248.04" y2="270.8" stroke="#333" stroke-width="0.9"/>
<line x1="251.92" y1="269.5" x2="251.92" y2="270.8" stroke="#333" stroke-width="0.9"/>
<line x1="255.81" y1="269.5" x2="255.81" y2="270.8" stroke="#333" stroke-width="0.9"/>
<line x1="259.69" y1="269.5" x2="259.69" y2="270.8" stroke="#333" stroke-width="0.9"/>
<line x1="263.57" y1="269.5" x2="263.57" y2="272.1" stroke="#222" stroke-width="0.9"/>
<text x="0" y="0" transform="translate(263.57 277.5) scale(0.84 1)" font-size="5.8" text-anchor="middle" font-weight="normal" font-style="normal" fill="#2a2a2a" stroke="#2a2a2a" stroke-width="0.18">150</text>
<line x1="267.46" y1="269.5" x2="267.46" y2="270.8" stroke="#333" stroke-width="0.9"/>
<line x1="271.35" y1="269.5" x2="271.35" y2="270.8" stroke="#333" stroke-width="0.9"/>
<line x1="275.23" y1="269.5" x2="275.23" y2="270.8" stroke="#333" stroke-width="0.9"/>
<line x1="279.12" y1="269.5" x2="279.12" y2="270.8" stroke="#333" stroke-width="0.9"/>
<line x1="283" y1="269.5" x2="283" y2="272.1" stroke="#222" stroke-width="0.9"/>
<text x="0" y="0" transform="translate(283 277.5) scale(0.84 1)" font-size="5.8" text-anchor="middle" font-weight="normal" font-style="normal" fill="#2a2a2a" stroke="#2a2a2a" stroke-width="0.18">200</text>
<line x1="286.88" y1="269.5" x2="286.88" y2="270.8" stroke="#333" stroke-width="0.9"/>
<line x1="290.77" y1="269.5" x2="290.77" y2="270.8" stroke="#333" stroke-width="0.9"/>
<line x1="294.66" y1="269.5" x2="294.66" y2="270.8" stroke="#333" stroke-width="0.9"/>
<line x1="298.54" y1="269.5" x2="298.54" y2="270.8" stroke="#333" stroke-width="0.9"/>
<line x1="302.43" y1="269.5" x2="302.43" y2="272.1" stroke="#222" stroke-width="0.9"/>
<text x="0" y="0" transform="translate(302.43 277.5) scale(0.84 1)" font-size="5.8" text-anchor="middle" font-weight="normal" font-style="normal" fill="#2a2a2a" stroke="#2a2a2a" stroke-width="0.18">250</text>
<line x1="306.31" y1="269.5" x2="306.31" y2="270.8" stroke="#333" stroke-width="0.9"/>
<line x1="310.2" y1="269.5" x2="310.2" y2="270.8" stroke="#333" stroke-width="0.9"/>
<line x1="314.08" y1="269.5" x2="314.08" y2="270.8" stroke="#333" stroke-width="0.9"/>
<line x1="317.97" y1="269.5" x2="317.97" y2="270.8" stroke="#333" stroke-width="0.9"/>
<line x1="321.85" y1="269.5" x2="321.85" y2="272.1" stroke="#222" stroke-width="0.9"/>
<text x="0" y="0" transform="translate(321.85 277.5) scale(0.84 1)" font-size="5.8" text-anchor="middle" font-weight="normal" font-style="normal" fill="#2a2a2a" stroke="#2a2a2a" stroke-width="0.18">300</text>
<line x1="325.74" y1="269.5" x2="325.74" y2="270.8" stroke="#333" stroke-width="0.9"/>
<line x1="329.62" y1="269.5" x2="329.62" y2="270.8" stroke="#333" stroke-width="0.9"/>
<line x1="333.5" y1="269.5" x2="333.5" y2="270.8" stroke="#333" stroke-width="0.9"/>
<line x1="337.39" y1="269.5" x2="337.39" y2="270.8" stroke="#333" stroke-width="0.9"/>
<line x1="341.27" y1="269.5" x2="341.27" y2="272.1" stroke="#222" stroke-width="0.9"/>
<text x="0" y="0" transform="translate(341.27 277.5) scale(0.84 1)" font-size="5.8" text-anchor="middle" font-weight="normal" font-style="normal" fill="#2a2a2a" stroke="#2a2a2a" stroke-width="0.18">350</text>
<line x1="345.16" y1="269.5" x2="345.16" y2="270.8" stroke="#333" stroke-width="0.9"/>
<line x1="349.05" y1="269.5" x2="349.05" y2="270.8" stroke="#333" stroke-width="0.9"/>
<line x1="352.93" y1="269.5" x2="352.93" y2="270.8" stroke="#333" stroke-width="0.9"/>
<line x1="356.82" y1="269.5" x2="356.82" y2="270.8" stroke="#333" stroke-width="0.9"/>
<line x1="360.7" y1="269.5" x2="360.7" y2="272.1" stroke="#222" stroke-width="0.9"/>
<text x="0" y="0" transform="translate(360.7 277.5) scale(0.84 1)" font-size="5.8" text-anchor="middle" font-weight="normal" font-style="normal" fill="#2a2a2a" stroke="#2a2a2a" stroke-width="0.18">400</text>
<text x="285.1" y="287.3" font-size="8.7" text-anchor="middle" font-weight="bold" font-style="italic" fill="#111" stroke="#111" stroke-width="0.35">Strain, %</text>
<text x="0" y="0" font-size="9.6" text-anchor="middle" font-weight="bold" font-style="italic" fill="#111" stroke="#111" stroke-width="0.35" transform="translate(192.9 212.95) rotate(-90) scale(0.905 1)">Stress, MPa</text>
<line x1="387.4" y1="158.9" x2="543.4" y2="158.9" stroke="#8a8a8a" stroke-width="1.1"/>
<line x1="543.4" y1="158.9" x2="543.4" y2="269.5" stroke="#8a8a8a" stroke-width="1.1"/>
<line x1="387.4" y1="158.4" x2="387.4" y2="270" stroke="#8a8a8a" stroke-width="1.1"/>
<line x1="387.4" y1="269.5" x2="543.4" y2="269.5" stroke="#8a8a8a" stroke-width="1.1"/>
<line x1="384.8" y1="269.5" x2="387.4" y2="269.5" stroke="#222" stroke-width="0.9"/>
<text x="0" y="0" transform="translate(383.5 271.7) scale(0.84 1)" font-size="5.8" text-anchor="end" font-weight="normal" font-style="normal" fill="#2a2a2a" stroke="#2a2a2a" stroke-width="0.18">0</text>
<line x1="386.1" y1="265.07" x2="387.4" y2="265.07" stroke="#333" stroke-width="0.9"/>
<line x1="386.1" y1="260.64" x2="387.4" y2="260.64" stroke="#333" stroke-width="0.9"/>
<line x1="386.1" y1="256.21" x2="387.4" y2="256.21" stroke="#333" stroke-width="0.9"/>
<line x1="386.1" y1="251.78" x2="387.4" y2="251.78" stroke="#333" stroke-width="0.9"/>
<line x1="384.8" y1="247.35" x2="387.4" y2="247.35" stroke="#222" stroke-width="0.9"/>
<text x="0" y="0" transform="translate(383.5 249.55) scale(0.84 1)" font-size="5.8" text-anchor="end" font-weight="normal" font-style="normal" fill="#2a2a2a" stroke="#2a2a2a" stroke-width="0.18">10</text>
<line x1="386.1" y1="242.92" x2="387.4" y2="242.92" stroke="#333" stroke-width="0.9"/>
<line x1="386.1" y1="238.49" x2="387.4" y2="238.49" stroke="#333" stroke-width="0.9"/>
<line x1="386.1" y1="234.06" x2="387.4" y2="234.06" stroke="#333" stroke-width="0.9"/>
<line x1="386.1" y1="229.63" x2="387.4" y2="229.63" stroke="#333" stroke-width="0.9"/>
<line x1="384.8" y1="225.2" x2="387.4" y2="225.2" stroke="#222" stroke-width="0.9"/>
<text x="0" y="0" transform="translate(383.5 227.4) scale(0.84 1)" font-size="5.8" text-anchor="end" font-weight="normal" font-style="normal" fill="#2a2a2a" stroke="#2a2a2a" stroke-width="0.18">20</text>
<line x1="386.1" y1="220.77" x2="387.4" y2="220.77" stroke="#333" stroke-width="0.9"/>
<line x1="386.1" y1="216.34" x2="387.4" y2="216.34" stroke="#333" stroke-width="0.9"/>
<line x1="386.1" y1="211.91" x2="387.4" y2="211.91" stroke="#333" stroke-width="0.9"/>
<line x1="386.1" y1="207.48" x2="387.4" y2="207.48" stroke="#333" stroke-width="0.9"/>
<line x1="384.8" y1="203.05" x2="387.4" y2="203.05" stroke="#222" stroke-width="0.9"/>
<text x="0" y="0" transform="translate(383.5 205.25) scale(0.84 1)" font-size="5.8" text-anchor="end" font-weight="normal" font-style="normal" fill="#2a2a2a" stroke="#2a2a2a" stroke-width="0.18">30</text>
<line x1="386.1" y1="198.62" x2="387.4" y2="198.62" stroke="#333" stroke-width="0.9"/>
<line x1="386.1" y1="194.19" x2="387.4" y2="194.19" stroke="#333" stroke-width="0.9"/>
<line x1="386.1" y1="189.76" x2="387.4" y2="189.76" stroke="#333" stroke-width="0.9"/>
<line x1="386.1" y1="185.33" x2="387.4" y2="185.33" stroke="#333" stroke-width="0.9"/>
<line x1="384.8" y1="180.9" x2="387.4" y2="180.9" stroke="#222" stroke-width="0.9"/>
<text x="0" y="0" transform="translate(383.5 183.1) scale(0.84 1)" font-size="5.8" text-anchor="end" font-weight="normal" font-style="normal" fill="#2a2a2a" stroke="#2a2a2a" stroke-width="0.18">40</text>
<line x1="386.1" y1="176.47" x2="387.4" y2="176.47" stroke="#333" stroke-width="0.9"/>
<line x1="386.1" y1="172.04" x2="387.4" y2="172.04" stroke="#333" stroke-width="0.9"/>
<line x1="386.1" y1="167.61" x2="387.4" y2="167.61" stroke="#333" stroke-width="0.9"/>
<line x1="386.1" y1="163.18" x2="387.4" y2="163.18" stroke="#333" stroke-width="0.9"/>
<line x1="384.8" y1="158.75" x2="387.4" y2="158.75" stroke="#222" stroke-width="0.9"/>
<text x="0" y="0" transform="translate(383.5 160.95) scale(0.84 1)" font-size="5.8" text-anchor="end" font-weight="normal" font-style="normal" fill="#2a2a2a" stroke="#2a2a2a" stroke-width="0.18">50</text>
<line x1="387.4" y1="269.5" x2="387.4" y2="272.1" stroke="#222" stroke-width="0.9"/>
<text x="0" y="0" transform="translate(387.4 277.5) scale(0.84 1)" font-size="5.8" text-anchor="middle" font-weight="normal" font-style="normal" fill="#2a2a2a" stroke="#2a2a2a" stroke-width="0.18">0</text>
<line x1="391.28" y1="269.5" x2="391.28" y2="270.8" stroke="#333" stroke-width="0.9"/>
<line x1="395.17" y1="269.5" x2="395.17" y2="270.8" stroke="#333" stroke-width="0.9"/>
<line x1="399.05" y1="269.5" x2="399.05" y2="270.8" stroke="#333" stroke-width="0.9"/>
<line x1="402.94" y1="269.5" x2="402.94" y2="270.8" stroke="#333" stroke-width="0.9"/>
<line x1="406.82" y1="269.5" x2="406.82" y2="272.1" stroke="#222" stroke-width="0.9"/>
<text x="0" y="0" transform="translate(406.82 277.5) scale(0.84 1)" font-size="5.8" text-anchor="middle" font-weight="normal" font-style="normal" fill="#2a2a2a" stroke="#2a2a2a" stroke-width="0.18">50</text>
<line x1="410.71" y1="269.5" x2="410.71" y2="270.8" stroke="#333" stroke-width="0.9"/>
<line x1="414.59" y1="269.5" x2="414.59" y2="270.8" stroke="#333" stroke-width="0.9"/>
<line x1="418.48" y1="269.5" x2="418.48" y2="270.8" stroke="#333" stroke-width="0.9"/>
<line x1="422.37" y1="269.5" x2="422.37" y2="270.8" stroke="#333" stroke-width="0.9"/>
<line x1="426.25" y1="269.5" x2="426.25" y2="272.1" stroke="#222" stroke-width="0.9"/>
<text x="0" y="0" transform="translate(426.25 277.5) scale(0.84 1)" font-size="5.8" text-anchor="middle" font-weight="normal" font-style="normal" fill="#2a2a2a" stroke="#2a2a2a" stroke-width="0.18">100</text>
<line x1="430.13" y1="269.5" x2="430.13" y2="270.8" stroke="#333" stroke-width="0.9"/>
<line x1="434.02" y1="269.5" x2="434.02" y2="270.8" stroke="#333" stroke-width="0.9"/>
<line x1="437.9" y1="269.5" x2="437.9" y2="270.8" stroke="#333" stroke-width="0.9"/>
<line x1="441.79" y1="269.5" x2="441.79" y2="270.8" stroke="#333" stroke-width="0.9"/>
<line x1="445.67" y1="269.5" x2="445.67" y2="272.1" stroke="#222" stroke-width="0.9"/>
<text x="0" y="0" transform="translate(445.67 277.5) scale(0.84 1)" font-size="5.8" text-anchor="middle" font-weight="normal" font-style="normal" fill="#2a2a2a" stroke="#2a2a2a" stroke-width="0.18">150</text>
<line x1="449.56" y1="269.5" x2="449.56" y2="270.8" stroke="#333" stroke-width="0.9"/>
<line x1="453.44" y1="269.5" x2="453.44" y2="270.8" stroke="#333" stroke-width="0.9"/>
<line x1="457.33" y1="269.5" x2="457.33" y2="270.8" stroke="#333" stroke-width="0.9"/>
<line x1="461.21" y1="269.5" x2="461.21" y2="270.8" stroke="#333" stroke-width="0.9"/>
<line x1="465.1" y1="269.5" x2="465.1" y2="272.1" stroke="#222" stroke-width="0.9"/>
<text x="0" y="0" transform="translate(465.1 277.5) scale(0.84 1)" font-size="5.8" text-anchor="middle" font-weight="normal" font-style="normal" fill="#2a2a2a" stroke="#2a2a2a" stroke-width="0.18">200</text>
<line x1="468.99" y1="269.5" x2="468.99" y2="270.8" stroke="#333" stroke-width="0.9"/>
<line x1="472.87" y1="269.5" x2="472.87" y2="270.8" stroke="#333" stroke-width="0.9"/>
<line x1="476.75" y1="269.5" x2="476.75" y2="270.8" stroke="#333" stroke-width="0.9"/>
<line x1="480.64" y1="269.5" x2="480.64" y2="270.8" stroke="#333" stroke-width="0.9"/>
<line x1="484.52" y1="269.5" x2="484.52" y2="272.1" stroke="#222" stroke-width="0.9"/>
<text x="0" y="0" transform="translate(484.52 277.5) scale(0.84 1)" font-size="5.8" text-anchor="middle" font-weight="normal" font-style="normal" fill="#2a2a2a" stroke="#2a2a2a" stroke-width="0.18">250</text>
<line x1="488.41" y1="269.5" x2="488.41" y2="270.8" stroke="#333" stroke-width="0.9"/>
<line x1="492.29" y1="269.5" x2="492.29" y2="270.8" stroke="#333" stroke-width="0.9"/>
<line x1="496.18" y1="269.5" x2="496.18" y2="270.8" stroke="#333" stroke-width="0.9"/>
<line x1="500.06" y1="269.5" x2="500.06" y2="270.8" stroke="#333" stroke-width="0.9"/>
<line x1="503.95" y1="269.5" x2="503.95" y2="272.1" stroke="#222" stroke-width="0.9"/>
<text x="0" y="0" transform="translate(503.95 277.5) scale(0.84 1)" font-size="5.8" text-anchor="middle" font-weight="normal" font-style="normal" fill="#2a2a2a" stroke="#2a2a2a" stroke-width="0.18">300</text>
<line x1="507.83" y1="269.5" x2="507.83" y2="270.8" stroke="#333" stroke-width="0.9"/>
<line x1="511.72" y1="269.5" x2="511.72" y2="270.8" stroke="#333" stroke-width="0.9"/>
<line x1="515.61" y1="269.5" x2="515.61" y2="270.8" stroke="#333" stroke-width="0.9"/>
<line x1="519.49" y1="269.5" x2="519.49" y2="270.8" stroke="#333" stroke-width="0.9"/>
<line x1="523.38" y1="269.5" x2="523.38" y2="272.1" stroke="#222" stroke-width="0.9"/>
<text x="0" y="0" transform="translate(523.38 277.5) scale(0.84 1)" font-size="5.8" text-anchor="middle" font-weight="normal" font-style="normal" fill="#2a2a2a" stroke="#2a2a2a" stroke-width="0.18">350</text>
<line x1="527.26" y1="269.5" x2="527.26" y2="270.8" stroke="#333" stroke-width="0.9"/>
<line x1="531.14" y1="269.5" x2="531.14" y2="270.8" stroke="#333" stroke-width="0.9"/>
<line x1="535.03" y1="269.5" x2="535.03" y2="270.8" stroke="#333" stroke-width="0.9"/>
<line x1="538.91" y1="269.5" x2="538.91" y2="270.8" stroke="#333" stroke-width="0.9"/>
<line x1="542.8" y1="269.5" x2="542.8" y2="272.1" stroke="#222" stroke-width="0.9"/>
<text x="0" y="0" transform="translate(542.8 277.5) scale(0.84 1)" font-size="5.8" text-anchor="middle" font-weight="normal" font-style="normal" fill="#2a2a2a" stroke="#2a2a2a" stroke-width="0.18">400</text>
<text x="467.4" y="287.3" font-size="8.7" text-anchor="middle" font-weight="bold" font-style="italic" fill="#111" stroke="#111" stroke-width="0.35">Strain, %</text>
<text x="0" y="0" font-size="9.6" text-anchor="middle" font-weight="bold" font-style="italic" fill="#111" stroke="#111" stroke-width="0.35" transform="translate(375 213) rotate(-90) scale(0.905 1)">Stress, MPa</text>
<path d="M22 193.1 L22.39 187.56 L22.78 182.03 L23.17 176.38 L23.55 170.95 L23.94 165.83 L24.33 161.43 L24.72 157.98 L25.11 155.44 L25.5 153.73 L25.89 152.79 L26.27 152.56 L26.66 152.42 L27.44 152.29 L28.22 152.22 L28.99 152.17 L29.77 152.12 L31.32 152.02 L32.88 151.94 L34.43 151.86 L35.99 151.77 L37.54 151.68 L39.09 151.58 L40.65 151.47 L42.2 151.35 L43.76 151.23 L45.31 151.11 L46.86 150.98 L48.42 150.85 L49.97 150.71 L51.53 150.57 L53.08 150.42 L54.63 150.26 L56.19 150.1 L57.74 149.92 L59.3 149.74 L60.85 149.56 L62.4 149.37 L63.96 149.19 L65.51 149 L67.07 148.8 L68.62 148.59 L70.17 148.37 L71.73 148.14 L73.28 147.88 L74.84 147.6 L76.39 147.3 L77.94 146.98 L79.5 146.65 L81.05 146.31 L82.61 145.97 L84.16 145.6 L85.71 145.22 L87.27 144.82 L88.82 144.42 L90.38 144.01 L91.93 143.6 L93.48 143.2 L95.04 142.8 L96.59 142.39 L98.15 141.98 L99.7 141.57 L101.25 141.16 L102.81 140.74 L104.36 140.31 L105.92 139.88 L107.47 139.43 L109.02 138.98 L110.58 138.52 L112.13 138.05 L113.69 137.56 L115.24 137.06 L116.79 136.55 L118.35 136.02 L119.9 135.49 L121.46 134.95 L123.01 134.4 L124.56 133.84 L126.12 133.28 L127.67 132.72 L129.23 132.15 L130.78 131.59 L132.33 131.02 L133.89 130.45 L135.44 129.88 L137 129.3 L138.55 128.72 L140.1 128.14 L141.66 127.54 L143.21 126.94 L144.77 126.32 L146.32 125.69 L147.87 125.04 L147.87 136.6" fill="none" stroke="#000" stroke-width="1.7" stroke-linejoin="round"/>
<path d="M22 193.1 L22.39 183.12 L22.78 173.44 L23.17 163.6 L23.55 156.15 L23.94 150.74 L24.33 147.52 L24.72 145.51 L25.11 144.48 L25.5 143.93 L25.89 143.7 L26.27 143.54 L26.66 143.48 L27.44 143.75 L28.22 144.07 L28.99 144.34 L29.77 144.59 L31.32 144.59 L32.88 144.59 L34.43 144.59 L35.99 144.59 L37.54 144.59 L39.09 144.58 L40.65 144.55 L42.2 144.51 L43.76 144.45 L45.31 144.38 L46.86 144.3 L48.42 144.21 L49.97 144.11 L51.53 144 L53.08 143.85 L54.63 143.63 L56.19 143.35 L57.74 143.04 L59.3 142.71 L60.85 142.38 L62.4 142.06 L63.96 141.73 L65.51 141.37 L67.07 141 L68.62 140.62 L70.17 140.24 L71.73 139.86 L73.28 139.48 L74.84 139.1 L76.39 138.72 L77.94 138.33 L79.5 137.93 L81.05 137.51 L82.61 137.06 L84.16 136.59 L85.71 136.09 L87.27 135.57 L88.82 135.05 L90.38 134.52 L91.93 134 L93.48 133.49 L95.04 132.97 L96.59 132.45 L98.15 131.93 L99.7 131.41 L101.25 130.89 L102.81 130.36 L104.36 129.83 L105.92 129.29 L107.47 128.75 L109.02 128.2 L110.58 127.65 L112.13 127.08 L113.69 126.52 L115.24 125.94 L116.79 125.36 L118.35 124.78 L119.9 124.19 L121.46 123.59 L123.01 122.99 L124.56 122.38 L126.12 121.76 L127.67 121.14 L129.23 120.5 L130.78 119.86 L132.33 119.2 L133.89 118.54 L135.44 117.87 L137 117.19 L138.55 116.51 L140.1 115.82 L141.66 115.12 L143.21 114.41 L144.77 113.7 L146.32 112.98 L147.87 112.25 L149.43 111.51 L150.98 110.76 L152.54 110.01 L152.92 109.82" fill="none" stroke="#7070d0" stroke-width="1.2" stroke-linejoin="round" stroke-dasharray="1.2 1.2"/>
<path d="M22 193.1 L22.39 184.52 L22.78 176.2 L23.17 167.71 L23.55 159.99 L23.94 154.41 L24.33 150.15 L24.72 147.52 L25.11 145.72 L25.5 144.74 L25.89 144.12 L26.27 143.77 L26.66 143.53 L27.44 143.6 L28.22 143.89 L28.99 144.09 L29.77 144.28 L31.32 144.37 L32.88 144.37 L34.43 144.37 L35.99 144.37 L37.54 144.37 L39.09 144.36 L40.65 144.33 L42.2 144.29 L43.76 144.23 L45.31 144.16 L46.86 144.08 L48.42 143.99 L49.97 143.88 L51.53 143.78 L53.08 143.63 L54.63 143.4 L56.19 143.13 L57.74 142.82 L59.3 142.49 L60.85 142.16 L62.4 141.84 L63.96 141.51 L65.51 141.15 L67.07 140.78 L68.62 140.4 L70.17 140.02 L71.73 139.63 L73.28 139.26 L74.84 138.88 L76.39 138.5 L77.94 138.11 L79.5 137.71 L81.05 137.29 L82.61 136.84 L84.16 136.37 L85.71 135.87 L87.27 135.35 L88.82 134.83 L90.38 134.3 L91.93 133.78 L93.48 133.27 L95.04 132.75 L96.59 132.23 L98.15 131.71 L99.7 131.19 L101.25 130.67 L102.81 130.14 L104.36 129.61 L105.92 129.07 L107.47 128.53 L109.02 127.98 L110.58 127.43 L112.13 126.86 L113.69 126.29 L115.24 125.72 L116.79 125.14 L118.35 124.56 L119.9 123.97 L121.46 123.37 L123.01 122.77 L124.56 122.16 L126.12 121.54 L127.67 120.91 L129.23 120.28 L130.78 119.63 L132.33 118.98 L133.89 118.32 L135.44 117.65 L137 116.97 L138.55 116.29 L140.1 115.6 L141.66 114.9 L143.21 114.19 L144.77 113.48 L146.32 112.76 L147.87 112.02 L149.43 111.29 L150.98 110.54 L152.54 109.78 L152.92 109.59" fill="none" stroke="#2828c8" stroke-width="1.2" stroke-linejoin="round" stroke-dasharray="1.2 1.2"/>
<path d="M22 193.1 L22.39 185.05 L22.78 177.22 L23.17 169.35 L23.55 161.76 L23.94 155.94 L24.33 151.2 L24.72 148.11 L25.11 146.06 L25.5 144.78 L25.89 144.03 L26.27 143.55 L26.66 143.26 L27.44 143.06 L28.22 143.36 L28.99 143.63 L29.77 143.87 L31.32 144.15 L32.88 144.15 L34.43 144.15 L35.99 144.15 L37.54 144.15 L39.09 144.14 L40.65 144.11 L42.2 144.07 L43.76 144.01 L45.31 143.94 L46.86 143.86 L48.42 143.76 L49.97 143.66 L51.53 143.55 L53.08 143.4 L54.63 143.18 L56.19 142.9 L57.74 142.59 L59.3 142.26 L60.85 141.93 L62.4 141.61 L63.96 141.27 L65.51 140.92 L67.07 140.54 L68.62 140.16 L70.17 139.78 L71.73 139.39 L73.28 139.02 L74.84 138.64 L76.39 138.26 L77.94 137.87 L79.5 137.46 L81.05 137.04 L82.61 136.59 L84.16 136.12 L85.71 135.61 L87.27 135.1 L88.82 134.57 L90.38 134.04 L91.93 133.52 L93.48 133 L95.04 132.49 L96.59 131.97 L98.15 131.45 L99.7 130.92 L101.25 130.4 L102.81 129.87 L104.36 129.33 L105.92 128.79 L107.47 128.25 L109.02 127.7 L110.58 127.14 L112.13 126.58 L113.69 126.01 L115.24 125.43 L116.79 124.85 L118.35 124.26 L119.9 123.67 L121.46 123.07 L123.01 122.47 L124.56 121.86 L126.12 121.24 L127.67 120.61 L129.23 119.97 L130.78 119.32 L132.33 118.66 L133.89 118 L135.44 117.33 L137 116.65 L138.55 115.96 L140.1 115.27 L141.66 114.57 L143.21 113.86 L144.77 113.14 L146.32 112.42 L147.87 111.68 L149.43 110.94 L150.98 110.19 L151.76 109.82 L151.76 119" fill="none" stroke="#c02828" stroke-width="1.2" stroke-linejoin="round" stroke-dasharray="3 1 1 1"/>
<path d="M22 193.1 L22.39 183.63 L22.78 174.47 L23.17 165.15 L23.55 157.44 L23.94 151.47 L24.33 147.71 L24.72 145.44 L25.11 144.2 L25.5 143.47 L25.89 143.12 L26.27 142.91 L26.66 142.82 L27.44 143.09 L28.22 143.4 L28.99 143.67 L29.77 143.93 L31.32 143.93 L32.88 143.93 L34.43 143.93 L35.99 143.93 L37.54 143.93 L39.09 143.92 L40.65 143.89 L42.2 143.84 L43.76 143.78 L45.31 143.71 L46.86 143.62 L48.42 143.53 L49.97 143.42 L51.53 143.31 L53.08 143.15 L54.63 142.92 L56.19 142.64 L57.74 142.31 L59.3 141.97 L60.85 141.63 L62.4 141.3 L63.96 140.95 L65.51 140.58 L67.07 140.19 L68.62 139.8 L70.17 139.4 L71.73 139 L73.28 138.61 L74.84 138.22 L76.39 137.83 L77.94 137.42 L79.5 137 L81.05 136.57 L82.61 136.1 L84.16 135.61 L85.71 135.09 L87.27 134.55 L88.82 134.01 L90.38 133.46 L91.93 132.92 L93.48 132.39 L95.04 131.85 L96.59 131.31 L98.15 130.77 L99.7 130.23 L101.25 129.69 L102.81 129.14 L104.36 128.59 L105.92 128.03 L107.47 127.46 L109.02 126.89 L110.58 126.32 L112.13 125.73 L113.69 125.14 L115.24 124.54 L116.79 123.94 L118.35 123.34 L119.9 122.72 L121.46 122.1 L123.01 121.48 L124.56 120.84 L126.12 120.2 L127.67 119.55 L129.23 118.89 L130.78 118.22 L132.33 117.54 L133.89 116.85 L135.44 116.16 L137 115.45 L138.55 114.74 L140.1 114.02 L141.66 113.3 L143.21 112.56 L144.77 111.82 L146.16 111.14 L146.16 136.6" fill="none" stroke="#f05a5a" stroke-width="1.2" stroke-linejoin="round" stroke-dasharray="3 1 1 1"/>
<path d="M22 193.1 L22.39 185.58 L22.78 178.25 L23.17 170.91 L23.55 163.52 L23.94 157.82 L24.33 153.58 L24.72 150.39 L25.11 148.21 L25.5 146.57 L25.89 145.61 L26.27 144.98 L26.66 144.59 L27.44 144.17 L28.22 144.36 L28.99 144.86 L29.77 145.27 L31.32 146.14 L32.88 146.14 L34.43 146.14 L35.99 146.14 L37.54 146.14 L39.09 146.14 L40.65 146.12 L42.2 146.1 L43.76 146.06 L45.31 146.01 L46.86 145.96 L48.42 145.89 L49.97 145.82 L51.53 145.74 L53.08 145.62 L54.63 145.45 L56.19 145.23 L57.74 144.98 L59.3 144.7 L60.85 144.43 L62.4 144.15 L63.96 143.86 L65.51 143.54 L67.07 143.21 L68.62 142.87 L70.17 142.52 L71.73 142.17 L73.28 141.82 L74.84 141.47 L76.39 141.11 L77.94 140.74 L79.5 140.36 L81.05 139.96 L82.61 139.53 L84.16 139.07 L85.71 138.58 L87.27 138.08 L88.82 137.56 L90.38 137.04 L91.93 136.52 L93.48 136 L95.04 135.48 L96.59 134.96 L98.15 134.43 L99.7 133.9 L101.25 133.36 L102.81 132.82 L104.36 132.27 L105.92 131.72 L107.47 131.15 L109.02 130.58 L110.58 130 L112.13 129.41 L113.69 128.81 L115.24 128.2 L116.79 127.59 L118.35 126.97 L119.9 126.34 L121.46 125.71 L123.01 125.06 L124.56 124.4 L126.12 123.74 L127.67 123.06 L129.23 122.37 L130.78 121.67 L132.33 120.95 L133.89 120.23 L135.44 119.5 L137 118.76 L138.55 118 L140.1 117.24 L141.66 116.47 L143.21 115.68 L144.77 114.89 L146.32 114.08 L147.87 113.27 L149.43 112.44 L150.98 111.61 L152.54 110.76 L154.09 109.9 L155.64 109.02 L157.2 108.14 L158.75 107.25 L160.31 106.34 L161.86 105.41 L163.41 104.46 L164.97 103.49 L166.52 102.51 L168.08 101.51 L169.63 100.5 L171.18 99.47 L172.74 98.42 L173.9 97.63 L173.9 104.72" fill="none" stroke="#f4f020" stroke-width="1.4" stroke-linejoin="round"/>
<path d="M22 193.1 L22.39 182.54 L22.78 172.27 L23.17 162.06 L23.55 154.62 L23.94 149.37 L24.33 146.45 L24.72 144.81 L25.11 143.92 L25.5 143.59 L25.89 143.41 L26.27 143.3 L26.66 143.26 L27.44 143.57 L28.22 143.94 L28.99 144.27 L29.77 144.59 L31.32 144.59 L32.88 144.59 L34.43 144.59 L35.99 144.59 L37.54 144.59 L39.09 144.58 L40.65 144.53 L42.2 144.47 L43.76 144.38 L45.31 144.28 L46.86 144.17 L48.42 144.05 L49.97 143.91 L51.53 143.77 L53.08 143.57 L54.63 143.28 L56.19 142.93 L57.74 142.54 L59.3 142.13 L60.85 141.72 L62.4 141.32 L63.96 140.91 L65.51 140.48 L67.07 140.03 L68.62 139.57 L70.17 139.11 L71.73 138.66 L73.28 138.21 L74.84 137.77 L76.39 137.32 L77.94 136.86 L79.5 136.39 L81.05 135.9 L82.61 135.38 L84.16 134.83 L85.71 134.25 L87.27 133.65 L88.82 133.05 L90.38 132.45 L91.93 131.85 L93.48 131.26 L95.04 130.67 L96.59 130.09 L98.15 129.5 L99.7 128.91 L101.25 128.32 L102.81 127.72 L104.36 127.12 L105.92 126.52 L107.47 125.91 L109.02 125.3 L110.58 124.68 L112.13 124.05 L113.69 123.42 L115.24 122.78 L116.79 122.14 L118.35 121.49 L119.9 120.84 L121.46 120.18 L123.01 119.51 L124.56 118.84 L126.12 118.16 L127.67 117.47 L129.23 116.77 L130.78 116.07 L132.33 115.35 L133.89 114.63 L135.44 113.9 L137 113.16 L138.55 112.41 L140.1 111.66 L141.66 110.9 L143.21 110.13 L144.77 109.36 L146.32 108.58 L147.87 107.79 L149.43 106.99 L150.98 106.18 L152.54 105.37 L154.09 104.55 L155.64 103.72 L157.2 102.88 L158.75 102.03 L160.31 101.17 L161.86 100.3 L163.41 99.41 L164.97 98.51 L166.52 97.59 L168.08 96.67 L168.31 96.53" fill="none" stroke="#c47028" stroke-width="1.3" stroke-linejoin="round"/>
<rect x="122.8" y="137.8" width="54.6" height="52.5" fill="#000"/>
<rect x="121.6" y="136.6" width="54.2" height="52.1" fill="#fff" stroke="#999" stroke-width="0.8"/>
<line x1="123.8" y1="140.6" x2="130.4" y2="140.6" stroke="#000" stroke-width="1.6"/>
<text x="0" y="0" transform="translate(132.8 142.75) scale(0.9 1)" font-size="6.1" text-anchor="start" font-weight="normal" font-style="normal" fill="#111" stroke="#111" stroke-width="0.15">initial UHMWPE</text>
<text x="0" y="0" transform="translate(124.6 149.11) scale(0.94 1)" font-size="6.1" text-anchor="start" font-weight="bold" font-style="italic" fill="#111" stroke="#111" stroke-width="0.15">UHMWPE+...</text>
<line x1="123.8" y1="153.32" x2="130.4" y2="153.32" stroke="#e86060" stroke-width="1.5" stroke-dasharray="4 0.9 1.7 9"/>
<text x="0" y="0" transform="translate(132.8 155.47) scale(0.9 1)" font-size="6.1" text-anchor="start" font-weight="normal" font-style="normal" fill="#111" stroke="#111" stroke-width="0.15">+ 0.5 wt.% MW</text>
<line x1="123.8" y1="159.68" x2="130.4" y2="159.68" stroke="#c83838" stroke-width="1.5" stroke-dasharray="4 0.9 1.7 9"/>
<text x="0" y="0" transform="translate(132.8 161.83) scale(0.9 1)" font-size="6.1" text-anchor="start" font-weight="normal" font-style="normal" fill="#111" stroke="#111" stroke-width="0.15">+ 1 wt.% MW</text>
<line x1="123.8" y1="166.04" x2="130.4" y2="166.04" stroke="#2020c0" stroke-width="1.5" stroke-dasharray="1.1 0.9"/>
<text x="0" y="0" transform="translate(132.8 168.19) scale(0.9 1)" font-size="6.1" text-anchor="start" font-weight="normal" font-style="normal" fill="#111" stroke="#111" stroke-width="0.15">+ 0.5 wt.% WB</text>
<line x1="123.8" y1="172.4" x2="130.4" y2="172.4" stroke="#6060c0" stroke-width="1.5" stroke-dasharray="1.1 0.9"/>
<text x="0" y="0" transform="translate(132.8 174.55) scale(0.9 1)" font-size="6.1" text-anchor="start" font-weight="normal" font-style="normal" fill="#111" stroke="#111" stroke-width="0.15">+ 1 wt.% WB</text>
<line x1="123.8" y1="178.76" x2="130.4" y2="178.76" stroke="#f0f040" stroke-width="1.5"/>
<text x="0" y="0" transform="translate(132.8 180.91) scale(0.9 1)" font-size="6.1" text-anchor="start" font-weight="normal" font-style="normal" fill="#111" stroke="#111" stroke-width="0.15">+ 0.5 wt.% MBT</text>
<line x1="123.8" y1="185.12" x2="130.4" y2="185.12" stroke="#d08030" stroke-width="1.5"/>
<text x="0" y="0" transform="translate(132.8 187.27) scale(0.9 1)" font-size="6.1" text-anchor="start" font-weight="normal" font-style="normal" fill="#111" stroke="#111" stroke-width="0.15">+ 1 wt.% MBT</text>
<path d="M205.3 125.8 L205.69 120.26 L206.08 114.72 L206.47 109.08 L206.85 103.65 L207.24 98.53 L207.63 94.13 L208.02 90.68 L208.41 88.14 L208.8 86.43 L209.19 85.49 L209.57 85.26 L209.96 85.12 L210.74 84.99 L211.52 84.92 L212.29 84.87 L213.07 84.82 L214.62 84.72 L216.18 84.64 L217.73 84.56 L219.29 84.47 L220.84 84.38 L222.39 84.28 L223.95 84.17 L225.5 84.05 L227.06 83.93 L228.61 83.81 L230.16 83.68 L231.72 83.55 L233.27 83.41 L234.83 83.27 L236.38 83.12 L237.93 82.96 L239.49 82.8 L241.04 82.62 L242.6 82.44 L244.15 82.26 L245.7 82.07 L247.26 81.89 L248.81 81.7 L250.37 81.5 L251.92 81.29 L253.47 81.07 L255.03 80.84 L256.58 80.58 L258.14 80.3 L259.69 80 L261.24 79.68 L262.8 79.35 L264.35 79.01 L265.91 78.67 L267.46 78.3 L269.01 77.92 L270.57 77.52 L272.12 77.12 L273.68 76.71 L275.23 76.3 L276.78 75.9 L278.34 75.5 L279.89 75.09 L281.45 74.68 L283 74.27 L284.55 73.86 L286.11 73.44 L287.66 73.01 L289.22 72.58 L290.77 72.13 L292.32 71.68 L293.88 71.22 L295.43 70.75 L296.99 70.26 L298.54 69.76 L300.09 69.25 L301.65 68.72 L303.2 68.19 L304.76 67.65 L306.31 67.1 L307.86 66.54 L309.42 65.98 L310.97 65.42 L312.53 64.85 L314.08 64.29 L315.63 63.72 L317.19 63.15 L318.74 62.58 L320.3 62 L321.85 61.42 L323.4 60.84 L324.96 60.24 L326.51 59.64 L328.07 59.02 L329.62 58.39 L331.17 57.74 L331.56 57.58 L331.56 83" fill="none" stroke="#000" stroke-width="1.7" stroke-linejoin="round"/>
<path d="M205.3 125.8 L205.69 116.8 L206.08 108.08 L206.47 99.46 L206.85 91.47 L207.24 83.87 L207.63 78.4 L208.02 75.89 L208.41 74.41 L208.8 73.58 L209.19 73.08 L209.57 72.78 L209.96 72.64 L210.74 72.98 L211.52 73.41 L212.29 73.8 L213.07 74.19 L214.62 74.19 L216.18 74.19 L217.73 74.19 L219.29 74.19 L220.84 74.19 L222.39 74.18 L223.95 74.15 L225.5 74.1 L227.06 74.03 L228.61 73.94 L230.16 73.85 L231.72 73.74 L233.27 73.62 L234.83 73.49 L236.38 73.32 L237.93 73.06 L239.49 72.73 L241.04 72.37 L242.6 71.98 L244.15 71.59 L245.7 71.22 L247.26 70.82 L248.81 70.4 L250.37 69.97 L251.92 69.52 L253.47 69.07 L255.03 68.62 L256.58 68.18 L258.14 67.74 L259.69 67.29 L261.24 66.83 L262.8 66.36 L264.35 65.86 L265.91 65.34 L267.46 64.78 L269.01 64.19 L270.57 63.59 L272.12 62.97 L273.68 62.35 L275.23 61.74 L276.78 61.13 L278.34 60.53 L279.89 59.92 L281.45 59.31 L283 58.69 L284.55 58.08 L286.11 57.46 L287.66 56.83 L289.22 56.2 L290.77 55.56 L292.32 54.92 L293.88 54.27 L295.43 53.6 L296.99 52.93 L298.54 52.26 L300.09 51.58 L301.65 50.89 L303.2 50.2 L304.76 49.5 L306.31 48.79 L307.86 48.07 L309.42 47.35 L310.97 46.61 L312.53 45.86 L314.08 45.1 L315.63 44.33 L317.19 43.55 L318.74 42.77 L320.3 41.97 L321.85 41.17 L323.4 40.36 L324.96 39.53 L326.51 38.7 L328.07 37.86 L329.62 37.01 L331.17 36.15 L332.73 35.29 L334.28 34.41 L335.84 33.52 L337.39 32.62 L338.94 31.71 L340.5 30.8 L342.05 29.87 L343.61 28.93 L345.16 27.97 L346.71 26.99 L348.27 26 L349.82 24.99 L350.79 24.35 L350.79 83" fill="none" stroke="#f040b0" stroke-width="1.1" stroke-linejoin="round" stroke-dasharray="2.6 1"/>
<path d="M205.3 125.8 L205.69 117.61 L206.08 109.64 L206.47 101.76 L206.85 94.18 L207.24 87.48 L207.63 81.43 L208.02 78.04 L208.41 76.06 L208.8 74.9 L209.19 74.19 L209.57 73.75 L209.96 73.47 L210.74 73.36 L211.52 73.73 L212.29 74.04 L213.07 74.34 L214.62 74.63 L216.18 74.63 L217.73 74.63 L219.29 74.63 L220.84 74.63 L222.39 74.62 L223.95 74.59 L225.5 74.55 L227.06 74.48 L228.61 74.4 L230.16 74.31 L231.72 74.21 L233.27 74.1 L234.83 73.99 L236.38 73.82 L237.93 73.58 L239.49 73.28 L241.04 72.94 L242.6 72.58 L244.15 72.22 L245.7 71.87 L247.26 71.5 L248.81 71.11 L250.37 70.71 L251.92 70.29 L253.47 69.87 L255.03 69.46 L256.58 69.04 L258.14 68.63 L259.69 68.22 L261.24 67.79 L262.8 67.35 L264.35 66.89 L265.91 66.41 L267.46 65.89 L269.01 65.34 L270.57 64.78 L272.12 64.2 L273.68 63.63 L275.23 63.06 L276.78 62.5 L278.34 61.93 L279.89 61.37 L281.45 60.8 L283 60.23 L284.55 59.66 L286.11 59.08 L287.66 58.5 L289.22 57.91 L290.77 57.32 L292.32 56.72 L293.88 56.11 L295.43 55.5 L296.99 54.88 L298.54 54.25 L300.09 53.62 L301.65 52.98 L303.2 52.34 L304.76 51.68 L306.31 51.02 L307.86 50.36 L309.42 49.68 L310.97 49 L312.53 48.3 L314.08 47.6 L315.63 46.88 L317.19 46.16 L318.74 45.43 L320.3 44.69 L321.85 43.94 L323.4 43.19 L324.96 42.42 L326.51 41.65 L328.07 40.87 L329.62 40.08 L331.17 39.28 L332.73 38.47 L334.28 37.66 L335.84 36.83 L337.39 36 L338.94 35.15 L340.5 34.3 L342.05 33.44 L343.61 32.56 L345.16 31.67 L345.94 31.22 L345.94 83" fill="none" stroke="#c83040" stroke-width="1.1" stroke-linejoin="round" stroke-dasharray="2.6 1"/>
<path d="M205.3 125.8 L205.69 115.82 L206.08 106.16 L206.47 96.59 L206.85 88.27 L207.24 81.09 L207.63 77.51 L208.02 75.54 L208.41 74.52 L208.8 73.97 L209.19 73.74 L209.57 73.58 L209.96 73.53 L210.74 73.79 L211.52 74.11 L212.29 74.38 L213.07 74.63 L214.62 74.63 L216.18 74.63 L217.73 74.63 L219.29 74.63 L220.84 74.63 L222.39 74.62 L223.95 74.59 L225.5 74.54 L227.06 74.48 L228.61 74.4 L230.16 74.31 L231.72 74.2 L233.27 74.09 L234.83 73.97 L236.38 73.8 L237.93 73.56 L239.49 73.25 L241.04 72.9 L242.6 72.53 L244.15 72.17 L245.7 71.81 L247.26 71.44 L248.81 71.04 L250.37 70.62 L251.92 70.2 L253.47 69.77 L255.03 69.35 L256.58 68.92 L258.14 68.5 L259.69 68.08 L261.24 67.64 L262.8 67.19 L264.35 66.72 L265.91 66.23 L267.46 65.7 L269.01 65.14 L270.57 64.56 L272.12 63.98 L273.68 63.39 L275.23 62.81 L276.78 62.23 L278.34 61.66 L279.89 61.08 L281.45 60.5 L283 59.92 L284.55 59.33 L286.11 58.75 L287.66 58.15 L289.22 57.55 L290.77 56.95 L292.32 56.33 L293.88 55.71 L295.43 55.09 L296.99 54.45 L298.54 53.81 L300.09 53.16 L301.65 52.51 L303.2 51.85 L304.76 51.19 L306.31 50.52 L307.86 49.83 L309.42 49.14 L310.97 48.44 L312.53 47.73 L314.08 47.01 L315.63 46.28 L317.19 45.54 L318.74 44.8 L320.3 44.04 L321.85 43.28 L323.4 42.51 L324.96 41.73 L326.51 40.94 L328.07 40.14 L329.62 39.33 L331.17 38.52 L332.73 37.69 L334.28 36.86 L335.84 36.02 L337.39 35.16 L338.94 34.3 L340.5 33.43 L342.05 32.55 L342.44 32.33" fill="none" stroke="#e07878" stroke-width="1.3" stroke-linejoin="round"/>
<path d="M205.3 125.8 L205.69 116.8 L206.08 108.08 L206.47 99.42 L206.85 91.47 L207.24 84.12 L207.63 78.84 L208.02 76.34 L208.41 74.86 L208.8 74.02 L209.19 73.53 L209.57 73.22 L209.96 73.08 L210.74 73.39 L211.52 73.76 L212.29 74.09 L213.07 74.41 L214.62 74.41 L216.18 74.41 L217.73 74.41 L219.29 74.41 L220.84 74.41 L222.39 74.4 L223.95 74.37 L225.5 74.32 L227.06 74.26 L228.61 74.18 L230.16 74.08 L231.72 73.98 L233.27 73.87 L234.83 73.75 L236.38 73.58 L237.93 73.33 L239.49 73.02 L241.04 72.67 L242.6 72.3 L244.15 71.93 L245.7 71.58 L247.26 71.2 L248.81 70.8 L250.37 70.38 L251.92 69.95 L253.47 69.52 L255.03 69.1 L256.58 68.67 L258.14 68.25 L259.69 67.82 L261.24 67.39 L262.8 66.93 L264.35 66.46 L265.91 65.96 L267.46 65.43 L269.01 64.87 L270.57 64.29 L272.12 63.7 L273.68 63.11 L275.23 62.53 L276.78 61.95 L278.34 61.37 L279.89 60.79 L281.45 60.21 L283 59.62 L284.55 59.03 L286.11 58.44 L287.66 57.84 L289.22 57.24 L290.77 56.63 L292.32 56.02 L293.88 55.39 L295.43 54.76 L296.99 54.12 L298.54 53.48 L300.09 52.83 L301.65 52.18 L303.2 51.51 L304.76 50.84 L306.31 50.17 L307.86 49.48 L309.42 48.79 L310.97 48.08 L312.53 47.37 L314.08 46.65 L315.63 45.91 L317.19 45.17 L318.74 44.42 L320.3 43.66 L321.85 42.89 L323.4 42.12 L324.96 41.33 L326.51 40.54 L328.07 39.74 L329.62 38.93 L331.17 38.11 L332.73 37.28 L334.28 36.44 L335.84 35.59 L337.39 34.74 L338.94 33.87 L340.5 32.99 L342.05 32.11 L342.44 31.88" fill="none" stroke="#f02030" stroke-width="1.4" stroke-linejoin="round"/>
<rect x="284.5" y="84" width="75.7" height="41.1" fill="#000"/>
<rect x="283.3" y="82.8" width="75.3" height="40.7" fill="#fff" stroke="#999" stroke-width="0.8"/>
<line x1="285.3" y1="87.5" x2="291.8" y2="87.5" stroke="#000" stroke-width="1.6"/>
<text x="0" y="0" transform="translate(294.4 89.65) scale(0.9 1)" font-size="6.1" text-anchor="start" font-weight="normal" font-style="normal" fill="#111" stroke="#111" stroke-width="0.15">initial UHMWPE</text>
<text x="0" y="0" transform="translate(286.4 95.97) scale(0.94 1)" font-size="6.1" text-anchor="start" font-weight="bold" font-style="italic" fill="#111" stroke="#111" stroke-width="0.15">UHMWPE+0.5 wt. MBT+...</text>
<line x1="285.3" y1="100.14" x2="291.8" y2="100.14" stroke="#d84098" stroke-width="1.5" stroke-dasharray="4 0.9 1.7 9"/>
<text x="0" y="0" transform="translate(294.4 102.29) scale(0.9 1)" font-size="6.1" text-anchor="start" font-weight="normal" font-style="normal" fill="#111" stroke="#111" stroke-width="0.15">+ 0.5 wt.% MW</text>
<line x1="285.3" y1="106.46" x2="291.8" y2="106.46" stroke="#e83040" stroke-width="1.5" stroke-dasharray="4 0.9 1.7 9"/>
<text x="0" y="0" transform="translate(294.4 108.61) scale(0.9 1)" font-size="6.1" text-anchor="start" font-weight="normal" font-style="normal" fill="#111" stroke="#111" stroke-width="0.15">+ 1 wt.% MW</text>
<line x1="285.3" y1="112.78" x2="291.8" y2="112.78" stroke="#d86868" stroke-width="1.5" stroke-dasharray="4 0.9 1.7 9"/>
<text x="0" y="0" transform="translate(294.4 114.93) scale(0.9 1)" font-size="6.1" text-anchor="start" font-weight="normal" font-style="normal" fill="#111" stroke="#111" stroke-width="0.15">+ 2 wt.% MW</text>
<line x1="285.3" y1="119.1" x2="291.8" y2="119.1" stroke="#703040" stroke-width="1.5" stroke-dasharray="4 0.9 1.7 9"/>
<text x="0" y="0" transform="translate(294.4 121.25) scale(0.9 1)" font-size="6.1" text-anchor="start" font-weight="normal" font-style="normal" fill="#111" stroke="#111" stroke-width="0.15">+ 5 wt.% MW</text>
<path d="M387.4 125.8 L387.79 120.26 L388.18 114.72 L388.57 109.08 L388.95 103.65 L389.34 98.53 L389.73 94.13 L390.12 90.68 L390.51 88.14 L390.9 86.43 L391.28 85.49 L391.67 85.26 L392.06 85.12 L392.84 84.99 L393.62 84.92 L394.39 84.87 L395.17 84.82 L396.72 84.72 L398.28 84.64 L399.83 84.56 L401.39 84.47 L402.94 84.38 L404.49 84.28 L406.05 84.17 L407.6 84.05 L409.16 83.93 L410.71 83.81 L412.26 83.68 L413.82 83.55 L415.37 83.41 L416.93 83.27 L418.48 83.12 L420.03 82.96 L421.59 82.8 L423.14 82.62 L424.7 82.44 L426.25 82.26 L427.8 82.07 L429.36 81.89 L430.91 81.7 L432.47 81.5 L434.02 81.29 L435.57 81.07 L437.13 80.84 L438.68 80.58 L440.24 80.3 L441.79 80 L443.34 79.68 L444.9 79.35 L446.45 79.01 L448.01 78.67 L449.56 78.3 L451.11 77.92 L452.67 77.52 L454.22 77.12 L455.78 76.71 L457.33 76.3 L458.88 75.9 L460.44 75.5 L461.99 75.09 L463.55 74.68 L465.1 74.27 L466.65 73.86 L468.21 73.44 L469.76 73.01 L471.32 72.58 L472.87 72.13 L474.42 71.68 L475.98 71.22 L477.53 70.75 L479.09 70.26 L480.64 69.76 L482.19 69.25 L483.75 68.72 L485.3 68.19 L486.86 67.65 L488.41 67.1 L489.96 66.54 L491.52 65.98 L493.07 65.42 L494.63 64.85 L496.18 64.29 L497.73 63.72 L499.29 63.15 L500.84 62.58 L502.4 62 L503.95 61.42 L505.5 60.84 L507.06 60.24 L508.61 59.64 L510.17 59.02 L511.72 58.39 L513.27 57.74 L513.66 57.58 L513.66 82" fill="none" stroke="#000" stroke-width="1.7" stroke-linejoin="round"/>
<path d="M387.4 125.8 L387.79 116.8 L388.18 108.08 L388.57 99.39 L388.95 91.47 L389.34 84.37 L389.73 79.28 L390.12 76.79 L390.51 75.3 L390.9 74.47 L391.28 73.97 L391.67 73.66 L392.06 73.53 L392.84 73.98 L393.62 74.58 L394.39 75.14 L395.17 75.74 L396.72 75.74 L398.28 75.74 L399.83 75.74 L401.39 75.74 L402.94 75.74 L404.49 75.74 L406.05 75.72 L407.6 75.69 L409.16 75.65 L410.71 75.6 L412.26 75.54 L413.82 75.47 L415.37 75.39 L416.93 75.31 L418.48 75.19 L420.03 75 L421.59 74.77 L423.14 74.49 L424.7 74.2 L426.25 73.9 L427.8 73.61 L429.36 73.29 L430.91 72.95 L432.47 72.6 L434.02 72.23 L435.57 71.86 L437.13 71.48 L438.68 71.11 L440.24 70.73 L441.79 70.35 L443.34 69.95 L444.9 69.54 L446.45 69.11 L448.01 68.65 L449.56 68.15 L451.11 67.63 L452.67 67.09 L454.22 66.53 L455.78 65.97 L457.33 65.42 L458.88 64.86 L460.44 64.31 L461.99 63.74 L463.55 63.18 L465.1 62.61 L466.65 62.03 L468.21 61.45 L469.76 60.86 L471.32 60.27 L472.87 59.66 L474.42 59.05 L475.98 58.43 L477.53 57.79 L479.09 57.15 L480.64 56.5 L482.19 55.84 L483.75 55.18 L485.3 54.5 L486.86 53.82 L488.41 53.13 L489.96 52.42 L491.52 51.71 L493.07 50.98 L494.63 50.24 L496.18 49.49 L497.73 48.73 L499.29 47.95 L500.84 47.16 L502.4 46.37 L503.95 45.56 L505.5 44.74 L507.06 43.91 L508.61 43.07 L510.17 42.22 L511.72 41.36 L513.27 40.48 L514.83 39.6 L516.38 38.7 L517.94 37.79 L519.49 36.86 L521.04 35.93 L522.6 34.98 L524.15 34.02 L525.71 33.05 L527.26 32.05 L528.81 31.03 L529.2 30.78" fill="none" stroke="#40e8a0" stroke-width="0.9" stroke-linejoin="round" stroke-dasharray="2.2 0.8"/>
<path d="M387.4 125.8 L387.79 116.8 L388.18 108.08 L388.57 99.39 L388.95 91.47 L389.34 84.37 L389.73 79.28 L390.12 76.79 L390.51 75.3 L390.9 74.47 L391.28 73.97 L391.67 73.66 L392.06 73.53 L392.84 74.09 L393.62 74.86 L394.39 75.6 L395.17 76.41 L396.72 76.41 L398.28 76.41 L399.83 76.41 L401.39 76.41 L402.94 76.41 L404.49 76.4 L406.05 76.4 L407.6 76.38 L409.16 76.36 L410.71 76.33 L412.26 76.29 L413.82 76.24 L415.37 76.19 L416.93 76.14 L418.48 76.05 L420.03 75.92 L421.59 75.75 L423.14 75.55 L424.7 75.33 L426.25 75.09 L427.8 74.86 L429.36 74.62 L430.91 74.34 L432.47 74.06 L434.02 73.76 L435.57 73.45 L437.13 73.13 L438.68 72.82 L440.24 72.5 L441.79 72.17 L443.34 71.83 L444.9 71.48 L446.45 71.1 L448.01 70.7 L449.56 70.26 L451.11 69.8 L452.67 69.32 L454.22 68.82 L455.78 68.31 L457.33 67.81 L458.88 67.31 L460.44 66.8 L461.99 66.28 L463.55 65.76 L465.1 65.23 L466.65 64.7 L468.21 64.15 L469.76 63.6 L471.32 63.04 L472.87 62.47 L474.42 61.89 L475.98 61.3 L477.53 60.69 L479.09 60.08 L480.64 59.45 L482.19 58.82 L483.75 58.18 L485.3 57.53 L486.86 56.86 L488.41 56.19 L489.96 55.5 L491.52 54.8 L493.07 54.08 L494.63 53.36 L496.18 52.61 L497.73 51.86 L499.29 51.09 L500.84 50.3 L502.4 49.51 L503.95 48.7 L505.5 47.88 L507.06 47.05 L508.61 46.2 L510.17 45.34 L511.72 44.47 L513.27 43.58 L514.83 42.68 L516.38 41.76 L517.94 40.83 L519.49 39.89 L521.04 38.93 L522.6 37.96 L524.15 36.97 L525.71 35.96 L527.26 34.93 L528.81 33.88 L530.37 32.8 L531.92 31.7 L533.48 30.59 L535.03 29.45" fill="none" stroke="#30e0a0" stroke-width="0.9" stroke-linejoin="round" stroke-dasharray="2.2 0.8"/>
<path d="M387.4 125.8 L387.79 117.75 L388.18 109.92 L388.57 102.14 L388.95 94.61 L389.34 88.28 L389.73 82.68 L390.12 79.24 L390.51 77.19 L390.9 75.93 L391.28 75.18 L391.67 74.7 L392.06 74.41 L392.84 74.24 L393.62 74.88 L394.39 75.55 L395.17 76.21 L396.72 77.07 L398.28 77.07 L399.83 77.07 L401.39 77.07 L402.94 77.07 L404.49 77.07 L406.05 77.05 L407.6 77.02 L409.16 76.99 L410.71 76.94 L412.26 76.88 L413.82 76.81 L415.37 76.74 L416.93 76.66 L418.48 76.54 L420.03 76.36 L421.59 76.14 L423.14 75.88 L424.7 75.59 L426.25 75.31 L427.8 75.03 L429.36 74.72 L430.91 74.4 L432.47 74.06 L434.02 73.71 L435.57 73.35 L437.13 72.99 L438.68 72.63 L440.24 72.27 L441.79 71.91 L443.34 71.53 L444.9 71.13 L446.45 70.72 L448.01 70.28 L449.56 69.81 L451.11 69.31 L452.67 68.79 L454.22 68.26 L455.78 67.72 L457.33 67.19 L458.88 66.66 L460.44 66.12 L461.99 65.59 L463.55 65.05 L465.1 64.5 L466.65 63.95 L468.21 63.39 L469.76 62.83 L471.32 62.26 L472.87 61.68 L474.42 61.09 L475.98 60.5 L477.53 59.89 L479.09 59.28 L480.64 58.65 L482.19 58.02 L483.75 57.39 L485.3 56.74 L486.86 56.09 L488.41 55.42 L489.96 54.75 L491.52 54.07 L493.07 53.37 L494.63 52.66 L496.18 51.94 L497.73 51.21 L499.29 50.47 L500.84 49.72 L502.4 48.95 L503.95 48.18 L505.5 47.4 L507.06 46.6 L508.61 45.8 L510.17 44.98 L511.72 44.16 L513.27 43.32 L514.83 42.47 L516.38 41.61 L517.94 40.74 L519.1 40.08" fill="none" stroke="#307040" stroke-width="1.3" stroke-linejoin="round" stroke-dasharray="3 0.7 1 0.7"/>
<path d="M387.4 125.8 L387.79 115.82 L388.18 106.16 L388.57 96.56 L388.95 88.32 L389.34 81.29 L389.73 77.73 L390.12 75.77 L390.51 74.74 L390.9 74.19 L391.28 73.96 L391.67 73.8 L392.06 73.75 L392.84 74.28 L393.62 74.98 L394.39 75.67 L395.17 76.41 L396.72 76.41 L398.28 76.41 L399.83 76.41 L401.39 76.41 L402.94 76.41 L404.49 76.4 L406.05 76.39 L407.6 76.36 L409.16 76.32 L410.71 76.27 L412.26 76.22 L413.82 76.15 L415.37 76.07 L416.93 75.99 L418.48 75.88 L420.03 75.7 L421.59 75.48 L423.14 75.22 L424.7 74.94 L426.25 74.65 L427.8 74.37 L429.36 74.07 L430.91 73.75 L432.47 73.42 L434.02 73.07 L435.57 72.71 L437.13 72.35 L438.68 72 L440.24 71.64 L441.79 71.27 L443.34 70.9 L444.9 70.51 L446.45 70.09 L448.01 69.66 L449.56 69.19 L451.11 68.69 L452.67 68.17 L454.22 67.65 L455.78 67.11 L457.33 66.58 L458.88 66.06 L460.44 65.53 L461.99 64.99 L463.55 64.45 L465.1 63.91 L466.65 63.36 L468.21 62.81 L469.76 62.25 L471.32 61.68 L472.87 61.11 L474.42 60.52 L475.98 59.93 L477.53 59.33 L479.09 58.72 L480.64 58.1 L482.19 57.47 L483.75 56.84 L485.3 56.2 L486.86 55.55 L488.41 54.89 L489.96 54.22 L491.52 53.54 L493.07 52.85 L494.63 52.14 L496.18 51.43 L497.73 50.7 L499.29 49.96 L500.84 49.22 L502.4 48.46 L503.95 47.69 L505.5 46.91 L507.06 46.12 L508.61 45.32 L510.17 44.51 L511.72 43.69 L513.27 42.86 L514.83 42.01 L516.38 41.16 L517.94 40.29 L519.1 39.64 L519.1 82" fill="none" stroke="#20a040" stroke-width="1.3" stroke-linejoin="round" stroke-dasharray="2.5 1"/>
<path d="M387.4 125.8 L387.79 116.8 L388.18 108.08 L388.57 99.41 L388.95 91.47 L389.34 84.24 L389.73 79.06 L390.12 76.56 L390.51 75.08 L390.9 74.25 L391.28 73.75 L391.67 73.44 L392.06 73.3 L392.84 73.76 L393.62 74.35 L394.39 74.92 L395.17 75.52 L396.72 75.52 L398.28 75.52 L399.83 75.52 L401.39 75.52 L402.94 75.52 L404.49 75.52 L406.05 75.5 L407.6 75.47 L409.16 75.44 L410.71 75.39 L412.26 75.33 L413.82 75.26 L415.37 75.19 L416.93 75.11 L418.48 74.99 L420.03 74.82 L421.59 74.6 L423.14 74.34 L424.7 74.06 L426.25 73.78 L427.8 73.5 L429.36 73.2 L430.91 72.88 L432.47 72.55 L434.02 72.2 L435.57 71.85 L437.13 71.49 L438.68 71.14 L440.24 70.78 L441.79 70.42 L443.34 70.04 L444.9 69.66 L446.45 69.25 L448.01 68.81 L449.56 68.34 L451.11 67.85 L452.67 67.34 L454.22 66.81 L455.78 66.28 L457.33 65.76 L458.88 65.23 L460.44 64.71 L461.99 64.17 L463.55 63.64 L465.1 63.1 L466.65 62.56 L468.21 62.01 L469.76 61.45 L471.32 60.89 L472.87 60.31 L474.42 59.73 L475.98 59.14 L477.53 58.55 L479.09 57.94 L480.64 57.32 L482.19 56.7 L483.75 56.07 L485.3 55.44 L486.86 54.79 L488.41 54.13 L489.96 53.47 L491.52 52.79 L493.07 52.1 L494.63 51.4 L496.18 50.69 L497.73 49.97 L499.29 49.24 L500.84 48.49 L502.4 47.74 L503.95 46.98 L505.5 46.2 L507.06 45.42 L508.61 44.62 L510.17 43.82 L511.72 43 L513.27 42.17 L514.83 41.34 L516.38 40.49 L517.94 39.63 L519.1 38.97" fill="none" stroke="#10c830" stroke-width="1.5" stroke-linejoin="round" stroke-dasharray="3 0.7 1 0.7"/>
<rect x="471.2" y="83" width="71.2" height="41.3" fill="#000"/>
<rect x="470" y="81.8" width="70.8" height="40.9" fill="#fff" stroke="#999" stroke-width="0.8"/>
<line x1="472.8" y1="86.7" x2="478.8" y2="86.7" stroke="#000" stroke-width="1.6"/>
<text x="0" y="0" transform="translate(481.4 88.85) scale(0.9 1)" font-size="6.1" text-anchor="start" font-weight="normal" font-style="normal" fill="#111" stroke="#111" stroke-width="0.15">initial UHMWPE</text>
<text x="0" y="0" transform="translate(473.3 95.23) scale(0.94 1)" font-size="6.1" text-anchor="start" font-weight="bold" font-style="italic" fill="#111" stroke="#111" stroke-width="0.15">UHMWPE+1 wt. MBT+...</text>
<line x1="472.8" y1="99.46" x2="478.8" y2="99.46" stroke="#30e0a0" stroke-width="1.5" stroke-dasharray="4 0.9 1.7 9"/>
<text x="0" y="0" transform="translate(481.4 101.61) scale(0.9 1)" font-size="6.1" text-anchor="start" font-weight="normal" font-style="normal" fill="#111" stroke="#111" stroke-width="0.15">+ 0.5 wt.% MW</text>
<line x1="472.8" y1="105.84" x2="478.8" y2="105.84" stroke="#30d050" stroke-width="1.5" stroke-dasharray="4 0.9 1.7 9"/>
<text x="0" y="0" transform="translate(481.4 107.99) scale(0.9 1)" font-size="6.1" text-anchor="start" font-weight="normal" font-style="normal" fill="#111" stroke="#111" stroke-width="0.15">+ 1 wt.% MW</text>
<line x1="472.8" y1="112.22" x2="478.8" y2="112.22" stroke="#20a040" stroke-width="1.5" stroke-dasharray="4 0.9 1.7 9"/>
<text x="0" y="0" transform="translate(481.4 114.37) scale(0.9 1)" font-size="6.1" text-anchor="start" font-weight="normal" font-style="normal" fill="#111" stroke="#111" stroke-width="0.15">+ 2 wt.% MW</text>
<line x1="472.8" y1="118.6" x2="478.8" y2="118.6" stroke="#306040" stroke-width="1.5" stroke-dasharray="4 0.9 1.7 9"/>
<text x="0" y="0" transform="translate(481.4 120.75) scale(0.9 1)" font-size="6.1" text-anchor="start" font-weight="normal" font-style="normal" fill="#111" stroke="#111" stroke-width="0.15">+ 5 wt.% MW</text>
<path d="M205.3 269.5 L205.69 263.96 L206.08 258.43 L206.47 252.78 L206.85 247.35 L207.24 242.23 L207.63 237.83 L208.02 234.38 L208.41 231.84 L208.8 230.13 L209.19 229.19 L209.57 228.96 L209.96 228.82 L210.74 228.69 L211.52 228.62 L212.29 228.57 L213.07 228.52 L214.62 228.42 L216.18 228.34 L217.73 228.26 L219.29 228.17 L220.84 228.08 L222.39 227.98 L223.95 227.87 L225.5 227.75 L227.06 227.63 L228.61 227.51 L230.16 227.38 L231.72 227.25 L233.27 227.11 L234.83 226.97 L236.38 226.82 L237.93 226.66 L239.49 226.5 L241.04 226.32 L242.6 226.14 L244.15 225.96 L245.7 225.77 L247.26 225.59 L248.81 225.4 L250.37 225.2 L251.92 224.99 L253.47 224.77 L255.03 224.54 L256.58 224.28 L258.14 224 L259.69 223.7 L261.24 223.38 L262.8 223.05 L264.35 222.71 L265.91 222.37 L267.46 222 L269.01 221.62 L270.57 221.22 L272.12 220.82 L273.68 220.41 L275.23 220 L276.78 219.6 L278.34 219.2 L279.89 218.79 L281.45 218.38 L283 217.97 L284.55 217.56 L286.11 217.14 L287.66 216.71 L289.22 216.28 L290.77 215.83 L292.32 215.38 L293.88 214.92 L295.43 214.45 L296.99 213.96 L298.54 213.46 L300.09 212.95 L301.65 212.42 L303.2 211.89 L304.76 211.35 L306.31 210.8 L307.86 210.24 L309.42 209.68 L310.97 209.12 L312.53 208.55 L314.08 207.99 L315.63 207.42 L317.19 206.85 L318.74 206.28 L320.3 205.7 L321.85 205.12 L323.4 204.54 L324.96 203.94 L326.51 203.34 L328.07 202.72 L329.62 202.09 L330.79 201.6 L330.79 226.4" fill="none" stroke="#000" stroke-width="1.7" stroke-linejoin="round"/>
<path d="M205.3 269.5 L205.69 260.5 L206.08 251.78 L206.47 242.97 L206.85 235.17 L207.24 228.83 L207.63 224.31 L208.02 221.84 L208.41 220.33 L208.8 219.5 L209.19 219 L209.57 218.69 L209.96 218.56 L210.74 218.68 L211.52 218.75 L212.29 218.77 L213.07 218.78 L214.62 218.78 L216.18 218.78 L217.73 218.78 L219.29 218.78 L220.84 218.78 L222.39 218.77 L223.95 218.76 L225.5 218.75 L227.06 218.72 L228.61 218.68 L230.16 218.64 L231.72 218.59 L233.27 218.53 L234.83 218.46 L236.38 218.37 L237.93 218.23 L239.49 218.04 L241.04 217.83 L242.6 217.59 L244.15 217.35 L245.7 217.12 L247.26 216.86 L248.81 216.58 L250.37 216.29 L251.92 215.98 L253.47 215.67 L255.03 215.36 L256.58 215.04 L258.14 214.72 L259.69 214.4 L261.24 214.06 L262.8 213.71 L264.35 213.35 L265.91 212.95 L267.46 212.53 L269.01 212.08 L270.57 211.61 L272.12 211.12 L273.68 210.64 L275.23 210.15 L276.78 209.67 L278.34 209.18 L279.89 208.69 L281.45 208.19 L283 207.69 L284.55 207.18 L286.11 206.66 L287.66 206.14 L289.22 205.61 L290.77 205.07 L292.32 204.52 L293.88 203.97 L295.43 203.4 L296.99 202.82 L298.54 202.24 L300.09 201.65 L301.65 201.05 L303.2 200.44 L304.76 199.83 L306.31 199.2 L307.86 198.56 L309.42 197.91 L310.97 197.25 L312.53 196.58 L314.08 195.89 L315.63 195.2 L317.19 194.49 L318.74 193.77 L320.3 193.04 L321.85 192.3 L323.4 191.55 L324.96 190.79 L326.51 190.02 L328.07 189.23 L329.62 188.44 L331.17 187.63 L332.73 186.81 L334.28 185.98 L335.84 185.13 L337.39 184.28 L338.94 183.41 L340.5 182.53 L342.05 181.64 L343.61 180.73 L345.16 179.8 L346.71 178.85 L346.99 178.69 L346.99 226.4" fill="none" stroke="#60a8c8" stroke-width="1.1" stroke-linejoin="round" stroke-dasharray="1.2 1"/>
<path d="M205.3 269.5 L205.69 259.52 L206.08 249.85 L206.47 240.15 L206.85 232.26 L207.24 225.96 L207.63 222.56 L208.02 220.57 L208.41 219.55 L208.8 219 L209.19 218.77 L209.57 218.61 L209.96 218.56 L210.74 218.71 L211.52 218.85 L212.29 218.94 L213.07 219 L214.62 219 L216.18 219 L217.73 219 L219.29 219 L220.84 219 L222.39 219 L223.95 218.98 L225.5 218.97 L227.06 218.94 L228.61 218.9 L230.16 218.86 L231.72 218.8 L233.27 218.74 L234.83 218.68 L236.38 218.58 L237.93 218.44 L239.49 218.25 L241.04 218.03 L242.6 217.79 L244.15 217.55 L245.7 217.31 L247.26 217.04 L248.81 216.76 L250.37 216.46 L251.92 216.15 L253.47 215.84 L255.03 215.52 L256.58 215.2 L258.14 214.87 L259.69 214.54 L261.24 214.2 L262.8 213.84 L264.35 213.47 L265.91 213.07 L267.46 212.63 L269.01 212.17 L270.57 211.7 L272.12 211.2 L273.68 210.71 L275.23 210.21 L276.78 209.72 L278.34 209.22 L279.89 208.72 L281.45 208.21 L283 207.7 L284.55 207.18 L286.11 206.66 L287.66 206.13 L289.22 205.59 L290.77 205.04 L292.32 204.48 L293.88 203.92 L295.43 203.34 L296.99 202.75 L298.54 202.16 L300.09 201.56 L301.65 200.95 L303.2 200.33 L304.76 199.7 L306.31 199.06 L307.86 198.41 L309.42 197.75 L310.97 197.08 L312.53 196.39 L314.08 195.69 L315.63 194.98 L317.19 194.26 L318.74 193.53 L320.3 192.79 L321.85 192.03 L323.4 191.27 L324.96 190.49 L326.51 189.71 L328.07 188.91 L329.62 188.1 L331.17 187.27 L332.73 186.44 L334.28 185.59 L335.84 184.73 L337.39 183.86 L338.94 182.98 L340.5 182.08 L342.05 181.17 L343.61 180.25 L343.99 180.01 L343.99 226.4" fill="none" stroke="#10d8f0" stroke-width="1.4" stroke-linejoin="round" stroke-dasharray="2.5 1"/>
<path d="M205.3 269.5 L205.69 261.31 L206.08 253.34 L206.47 245.35 L206.85 237.73 L207.24 231.67 L207.63 226.61 L208.02 223.54 L208.41 221.55 L208.8 220.37 L209.19 219.66 L209.57 219.22 L209.96 218.94 L210.74 218.83 L211.52 219.2 L212.29 219.51 L213.07 219.81 L214.62 220.11 L216.18 220.11 L217.73 220.11 L219.29 220.11 L220.84 220.11 L222.39 220.1 L223.95 220.09 L225.5 220.07 L227.06 220.05 L228.61 220.01 L230.16 219.97 L231.72 219.91 L233.27 219.85 L234.83 219.79 L236.38 219.7 L237.93 219.55 L239.49 219.37 L241.04 219.15 L242.6 218.91 L244.15 218.67 L245.7 218.43 L247.26 218.17 L248.81 217.89 L250.37 217.6 L251.92 217.29 L253.47 216.98 L255.03 216.66 L256.58 216.34 L258.14 216.02 L259.69 215.7 L261.24 215.36 L262.8 215 L264.35 214.63 L265.91 214.23 L267.46 213.81 L269.01 213.35 L270.57 212.88 L272.12 212.39 L273.68 211.9 L275.23 211.41 L276.78 210.93 L278.34 210.43 L279.89 209.94 L281.45 209.43 L283 208.93 L284.55 208.42 L286.11 207.9 L287.66 207.37 L289.22 206.84 L290.77 206.29 L292.32 205.74 L293.88 205.18 L295.43 204.61 L296.99 204.03 L298.54 203.44 L300.09 202.85 L301.65 202.24 L303.2 201.63 L304.76 201.01 L306.31 200.37 L307.86 199.73 L309.42 199.08 L310.97 198.41 L312.53 197.74 L314.08 197.05 L315.63 196.34 L317.19 195.63 L318.74 194.9 L320.3 194.17 L321.85 193.42 L323.4 192.67 L324.96 191.9 L326.51 191.12 L328.07 190.33 L329.62 189.53 L331.17 188.71 L332.73 187.89 L334.28 187.05 L335.84 186.2 L337.39 185.34 L338.94 184.46 L340.5 183.58 L342.05 182.68 L342.44 182.45" fill="none" stroke="#303090" stroke-width="1.3" stroke-linejoin="round"/>
<path d="M205.3 269.5 L205.69 260.5 L206.08 251.78 L206.47 242.93 L206.85 235.17 L207.24 229.08 L207.63 224.76 L208.02 222.29 L208.41 220.77 L208.8 219.94 L209.19 219.44 L209.57 219.14 L209.96 219 L210.74 219.6 L211.52 220.42 L212.29 221.23 L213.07 222.1 L214.62 222.1 L216.18 222.1 L217.73 222.1 L219.29 222.1 L220.84 222.1 L222.39 222.1 L223.95 222.09 L225.5 222.07 L227.06 222.04 L228.61 222 L230.16 221.95 L231.72 221.9 L233.27 221.84 L234.83 221.77 L236.38 221.67 L237.93 221.52 L239.49 221.33 L241.04 221.1 L242.6 220.85 L244.15 220.6 L245.7 220.35 L247.26 220.08 L248.81 219.79 L250.37 219.48 L251.92 219.16 L253.47 218.83 L255.03 218.49 L256.58 218.16 L258.14 217.83 L259.69 217.49 L261.24 217.13 L262.8 216.76 L264.35 216.37 L265.91 215.96 L267.46 215.51 L269.01 215.03 L270.57 214.54 L272.12 214.03 L273.68 213.52 L275.23 213.01 L276.78 212.5 L278.34 211.98 L279.89 211.46 L281.45 210.94 L283 210.41 L284.55 209.87 L286.11 209.33 L287.66 208.78 L289.22 208.22 L290.77 207.65 L292.32 207.07 L293.88 206.49 L295.43 205.89 L296.99 205.28 L298.54 204.67 L300.09 204.04 L301.65 203.41 L303.2 202.77 L304.76 202.12 L306.31 201.46 L307.86 200.79 L309.42 200.1 L310.97 199.41 L312.53 198.7 L314.08 197.98 L315.63 197.24 L317.19 196.49 L318.74 195.74 L320.3 194.97 L321.85 194.19 L323.4 193.4 L324.96 192.59 L326.51 191.78 L328.07 190.95 L329.62 190.11 L331.17 189.26 L332.73 188.4 L334.28 187.52 L335.84 186.63 L337.39 185.73 L338.94 184.81 L340.5 183.89 L342.05 182.95 L343.22 182.23 L343.22 187.55" fill="none" stroke="#1818c0" stroke-width="1.4" stroke-linejoin="round" stroke-dasharray="2.2 1"/>
<rect x="284.7" y="227.5" width="75.5" height="41.3" fill="#000"/>
<rect x="283.5" y="226.3" width="75.1" height="40.9" fill="#fff" stroke="#999" stroke-width="0.8"/>
<line x1="285.6" y1="230.7" x2="292" y2="230.7" stroke="#000" stroke-width="1.6"/>
<text x="0" y="0" transform="translate(294.6 232.85) scale(0.9 1)" font-size="6.1" text-anchor="start" font-weight="normal" font-style="normal" fill="#111" stroke="#111" stroke-width="0.15">initial UHMWPE</text>
<text x="0" y="0" transform="translate(286.7 239.35) scale(0.94 1)" font-size="6.1" text-anchor="start" font-weight="bold" font-style="italic" fill="#111" stroke="#111" stroke-width="0.15">UHMWPE+0.5 wt. MBT+...</text>
<line x1="285.6" y1="243.7" x2="292" y2="243.7" stroke="#20d8e0" stroke-width="1.5" stroke-dasharray="2.6 1.1 2.6 9"/>
<text x="0" y="0" transform="translate(294.6 245.85) scale(0.9 1)" font-size="6.1" text-anchor="start" font-weight="normal" font-style="normal" fill="#111" stroke="#111" stroke-width="0.15">+ 0.5 wt.% WB</text>
<line x1="285.6" y1="250.2" x2="292" y2="250.2" stroke="#60a8c8" stroke-width="1.5" stroke-dasharray="2.6 1.1 2.6 9"/>
<text x="0" y="0" transform="translate(294.6 252.35) scale(0.9 1)" font-size="6.1" text-anchor="start" font-weight="normal" font-style="normal" fill="#111" stroke="#111" stroke-width="0.15">+ 1 wt.% WB</text>
<line x1="285.6" y1="256.7" x2="292" y2="256.7" stroke="#2020c0" stroke-width="1.5" stroke-dasharray="2.6 1.1 2.6 9"/>
<text x="0" y="0" transform="translate(294.6 258.85) scale(0.9 1)" font-size="6.1" text-anchor="start" font-weight="normal" font-style="normal" fill="#111" stroke="#111" stroke-width="0.15">+ 2 wt.% WB</text>
<line x1="285.6" y1="263.2" x2="292" y2="263.2" stroke="#404090" stroke-width="1.6"/>
<text x="0" y="0" transform="translate(294.6 265.35) scale(0.9 1)" font-size="6.1" text-anchor="start" font-weight="normal" font-style="normal" fill="#111" stroke="#111" stroke-width="0.15">+ 5 wt.% WB</text>
<path d="M387.4 269.5 L387.79 263.96 L388.18 258.43 L388.57 252.78 L388.95 247.35 L389.34 242.23 L389.73 237.83 L390.12 234.38 L390.51 231.84 L390.9 230.13 L391.28 229.19 L391.67 228.96 L392.06 228.82 L392.84 228.69 L393.62 228.62 L394.39 228.57 L395.17 228.52 L396.72 228.42 L398.28 228.34 L399.83 228.26 L401.39 228.17 L402.94 228.08 L404.49 227.98 L406.05 227.87 L407.6 227.75 L409.16 227.63 L410.71 227.51 L412.26 227.38 L413.82 227.25 L415.37 227.11 L416.93 226.97 L418.48 226.82 L420.03 226.66 L421.59 226.5 L423.14 226.32 L424.7 226.14 L426.25 225.96 L427.8 225.77 L429.36 225.59 L430.91 225.4 L432.47 225.2 L434.02 224.99 L435.57 224.77 L437.13 224.54 L438.68 224.28 L440.24 224 L441.79 223.7 L443.34 223.38 L444.9 223.05 L446.45 222.71 L448.01 222.37 L449.56 222 L451.11 221.62 L452.67 221.22 L454.22 220.82 L455.78 220.41 L457.33 220 L458.88 219.6 L460.44 219.2 L461.99 218.79 L463.55 218.38 L465.1 217.97 L466.65 217.56 L468.21 217.14 L469.76 216.71 L471.32 216.28 L472.87 215.83 L474.42 215.38 L475.98 214.92 L477.53 214.45 L479.09 213.96 L480.64 213.46 L482.19 212.95 L483.75 212.42 L485.3 211.89 L486.86 211.35 L488.41 210.8 L489.96 210.24 L491.52 209.68 L493.07 209.12 L494.63 208.55 L496.18 207.99 L497.73 207.42 L499.29 206.85 L500.84 206.28 L502.4 205.7 L503.95 205.12 L505.5 204.54 L507.06 203.94 L508.61 203.34 L510.17 202.72 L511.72 202.09 L512.89 201.6 L512.89 226.3" fill="none" stroke="#000" stroke-width="1.7" stroke-linejoin="round"/>
<path d="M387.4 269.5 L387.79 260.5 L388.18 251.78 L388.57 242.97 L388.95 235.17 L389.34 228.83 L389.73 224.31 L390.12 221.84 L390.51 220.33 L390.9 219.5 L391.28 219 L391.67 218.69 L392.06 218.56 L392.84 218.78 L393.62 219.04 L394.39 219.25 L395.17 219.44 L396.72 219.44 L398.28 219.44 L399.83 219.44 L401.39 219.44 L402.94 219.44 L404.49 219.43 L406.05 219.4 L407.6 219.35 L409.16 219.29 L410.71 219.21 L412.26 219.12 L413.82 219.02 L415.37 218.91 L416.93 218.8 L418.48 218.63 L420.03 218.39 L421.59 218.09 L423.14 217.75 L424.7 217.39 L426.25 217.03 L427.8 216.68 L429.36 216.32 L430.91 215.93 L432.47 215.52 L434.02 215.11 L435.57 214.69 L437.13 214.28 L438.68 213.86 L440.24 213.45 L441.79 213.04 L443.34 212.61 L444.9 212.17 L446.45 211.72 L448.01 211.23 L449.56 210.71 L451.11 210.17 L452.67 209.6 L454.22 209.03 L455.78 208.46 L457.33 207.89 L458.88 207.33 L460.44 206.77 L461.99 206.2 L463.55 205.64 L465.1 205.07 L466.65 204.5 L468.21 203.92 L469.76 203.34 L471.32 202.76 L472.87 202.16 L474.42 201.57 L475.98 200.96 L477.53 200.35 L479.09 199.73 L480.64 199.1 L482.19 198.47 L483.75 197.83 L485.3 197.19 L486.86 196.54 L488.41 195.88 L489.96 195.22 L491.52 194.54 L493.07 193.86 L494.63 193.16 L496.18 192.46 L497.73 191.75 L499.29 191.03 L500.84 190.3 L502.4 189.56 L503.95 188.81 L505.5 188.06 L507.06 187.3 L508.61 186.53 L510.17 185.75 L511.72 184.96 L513.27 184.16 L514.83 183.36 L516.38 182.54 L517.39 182.01" fill="none" stroke="#a8a0f0" stroke-width="1" stroke-linejoin="round" stroke-dasharray="2 1.2"/>
<path d="M387.4 269.5 L387.79 261.31 L388.18 253.34 L388.57 245.28 L388.95 237.63 L389.34 231.99 L389.73 227.54 L390.12 224.67 L390.51 222.67 L390.9 221.48 L391.28 220.77 L391.67 220.33 L392.06 220.05 L392.84 219.97 L393.62 220.58 L394.39 221.14 L395.17 221.71 L396.72 222.32 L398.28 222.32 L399.83 222.32 L401.39 222.32 L402.94 222.32 L404.49 222.31 L406.05 222.28 L407.6 222.24 L409.16 222.17 L410.71 222.1 L412.26 222.01 L413.82 221.92 L415.37 221.81 L416.93 221.7 L418.48 221.54 L420.03 221.31 L421.59 221.02 L423.14 220.69 L424.7 220.34 L426.25 220 L427.8 219.66 L429.36 219.31 L430.91 218.93 L432.47 218.54 L434.02 218.14 L435.57 217.74 L437.13 217.34 L438.68 216.94 L440.24 216.55 L441.79 216.15 L443.34 215.74 L444.9 215.31 L446.45 214.87 L448.01 214.4 L449.56 213.9 L451.11 213.38 L452.67 212.83 L454.22 212.28 L455.78 211.73 L457.33 211.18 L458.88 210.64 L460.44 210.1 L461.99 209.55 L463.55 209.01 L465.1 208.46 L466.65 207.91 L468.21 207.35 L469.76 206.79 L471.32 206.23 L472.87 205.66 L474.42 205.08 L475.98 204.5 L477.53 203.9 L479.09 203.3 L480.64 202.7 L482.19 202.09 L483.75 201.48 L485.3 200.86 L486.86 200.23 L488.41 199.6 L489.96 198.96 L491.52 198.3 L493.07 197.65 L494.63 196.98 L496.18 196.3 L497.73 195.61 L499.29 194.91 L500.84 194.21 L502.4 193.5 L503.95 192.78 L505.5 192.05 L507.06 191.32 L508.61 190.57 L510.17 189.82 L511.72 189.06 L513.27 188.29 L514.83 187.52 L516.38 186.73 L517.39 186.22 L517.39 195.3" fill="none" stroke="#7010b0" stroke-width="1.3" stroke-linejoin="round" stroke-dasharray="2 0.7"/>
<path d="M387.4 269.5 L387.79 260.5 L388.18 251.78 L388.57 242.84 L388.95 235.17 L389.34 229.59 L389.73 225.64 L390.12 223.2 L390.51 221.66 L390.9 220.83 L391.28 220.33 L391.67 220.02 L392.06 219.88 L392.84 220.34 L393.62 220.93 L394.39 221.5 L395.17 222.1 L396.72 222.1 L398.28 222.1 L399.83 222.1 L401.39 222.1 L402.94 222.1 L404.49 222.09 L406.05 222.06 L407.6 222.02 L409.16 221.95 L410.71 221.88 L412.26 221.79 L413.82 221.7 L415.37 221.59 L416.93 221.48 L418.48 221.32 L420.03 221.09 L421.59 220.8 L423.14 220.48 L424.7 220.13 L426.25 219.79 L427.8 219.46 L429.36 219.11 L430.91 218.73 L432.47 218.35 L434.02 217.95 L435.57 217.55 L437.13 217.15 L438.68 216.76 L440.24 216.36 L441.79 215.97 L443.34 215.56 L444.9 215.14 L446.45 214.7 L448.01 214.23 L449.56 213.74 L451.11 213.22 L452.67 212.68 L454.22 212.13 L455.78 211.58 L457.33 211.04 L458.88 210.5 L460.44 209.96 L461.99 209.42 L463.55 208.87 L465.1 208.33 L466.65 207.78 L468.21 207.23 L469.76 206.68 L471.32 206.12 L472.87 205.55 L474.42 204.98 L475.98 204.39 L477.53 203.81 L479.09 203.21 L480.64 202.61 L482.19 202.01 L483.75 201.4 L485.3 200.78 L486.86 200.16 L488.41 199.53 L489.96 198.89 L491.52 198.25 L493.07 197.59 L494.63 196.93 L496.18 196.25 L497.73 195.57 L499.29 194.88 L500.84 194.18 L502.4 193.47 L503.95 192.76 L505.5 192.04 L507.06 191.31 L508.61 190.57 L510.17 189.82 L511.72 189.07 L513.27 188.3 L514.83 187.53 L516.38 186.75 L517.94 185.96 L519.49 185.17 L521.04 184.36 L522.6 183.54 L524.15 182.72 L525.71 181.88 L526.29 181.56 L526.29 209.47" fill="none" stroke="#8a18c8" stroke-width="1.4" stroke-linejoin="round" stroke-dasharray="2 0.7"/>
<path d="M387.4 269.5 L387.79 259.52 L388.18 249.84 L388.57 240.02 L388.95 232.5 L389.34 226.94 L389.73 223.7 L390.12 221.68 L390.51 220.66 L390.9 220.11 L391.28 219.87 L391.67 219.72 L392.06 219.66 L392.84 220 L393.62 220.43 L394.39 220.82 L395.17 221.21 L396.72 221.21 L398.28 221.21 L399.83 221.21 L401.39 221.21 L402.94 221.21 L404.49 221.2 L406.05 221.18 L407.6 221.13 L409.16 221.07 L410.71 221 L412.26 220.92 L413.82 220.82 L415.37 220.72 L416.93 220.61 L418.48 220.46 L420.03 220.23 L421.59 219.95 L423.14 219.64 L424.7 219.3 L426.25 218.97 L427.8 218.64 L429.36 218.3 L430.91 217.94 L432.47 217.56 L434.02 217.18 L435.57 216.79 L437.13 216.4 L438.68 216.02 L440.24 215.63 L441.79 215.25 L443.34 214.85 L444.9 214.44 L446.45 214.01 L448.01 213.56 L449.56 213.08 L451.11 212.57 L452.67 212.05 L454.22 211.51 L455.78 210.98 L457.33 210.45 L458.88 209.93 L460.44 209.4 L461.99 208.88 L463.55 208.35 L465.1 207.82 L466.65 207.29 L468.21 206.75 L469.76 206.21 L471.32 205.67 L472.87 205.11 L474.42 204.56 L475.98 203.99 L477.53 203.42 L479.09 202.84 L480.64 202.26 L482.19 201.67 L483.75 201.08 L485.3 200.48 L486.86 199.87 L488.41 199.26 L489.96 198.64 L491.52 198.01 L493.07 197.38 L494.63 196.73 L496.18 196.07 L497.73 195.41 L499.29 194.74 L500.84 194.06 L502.4 193.37 L503.95 192.67 L505.5 191.97 L507.06 191.26 L508.61 190.54 L510.17 189.82 L511.72 189.08 L513.27 188.34 L514.83 187.59 L516.38 186.83 L517.94 186.06 L519.49 185.29 L521.04 184.5 L522.6 183.71 L524.15 182.91 L525.71 182.09 L526.29 181.79" fill="none" stroke="#a030e0" stroke-width="1.4" stroke-linejoin="round" stroke-dasharray="2 0.7"/>
<path d="M387.4 269.5 L387.79 260.5 L388.18 251.78 L388.57 242.89 L388.95 235.17 L389.34 229.34 L389.73 225.2 L390.12 222.74 L390.51 221.21 L390.9 220.38 L391.28 219.88 L391.67 219.58 L392.06 219.44 L392.84 219.71 L393.62 220.02 L394.39 220.29 L395.17 220.55 L396.72 220.55 L398.28 220.55 L399.83 220.55 L401.39 220.55 L402.94 220.55 L404.49 220.54 L406.05 220.51 L407.6 220.47 L409.16 220.41 L410.71 220.34 L412.26 220.25 L413.82 220.16 L415.37 220.06 L416.93 219.95 L418.48 219.79 L420.03 219.57 L421.59 219.29 L423.14 218.97 L424.7 218.64 L426.25 218.31 L427.8 217.98 L429.36 217.64 L430.91 217.28 L432.47 216.9 L434.02 216.52 L435.57 216.13 L437.13 215.74 L438.68 215.36 L440.24 214.97 L441.79 214.59 L443.34 214.19 L444.9 213.78 L446.45 213.36 L448.01 212.9 L449.56 212.42 L451.11 211.91 L452.67 211.39 L454.22 210.86 L455.78 210.32 L457.33 209.8 L458.88 209.27 L460.44 208.75 L461.99 208.22 L463.55 207.69 L465.1 207.17 L466.65 206.63 L468.21 206.1 L469.76 205.56 L471.32 205.01 L472.87 204.46 L474.42 203.9 L475.98 203.34 L477.53 202.77 L479.09 202.19 L480.64 201.61 L482.19 201.02 L483.75 200.43 L485.3 199.83 L486.86 199.22 L488.41 198.61 L489.96 197.99 L491.52 197.36 L493.07 196.73 L494.63 196.08 L496.18 195.43 L497.73 194.76 L499.29 194.09 L500.84 193.41 L502.4 192.72 L503.95 192.03 L505.5 191.33 L507.06 190.62 L508.61 189.9 L510.17 189.17 L511.72 188.44 L513.27 187.7 L514.83 186.95 L516.38 186.19 L517.94 185.42 L519.49 184.65 L521.04 183.86 L522.6 183.07 L523.38 182.67" fill="none" stroke="#c060f0" stroke-width="1.1" stroke-linejoin="round" stroke-dasharray="1.5 1"/>
<rect x="470.4" y="227.5" width="72" height="41.3" fill="#000"/>
<rect x="469.2" y="226.3" width="71.6" height="40.9" fill="#fff" stroke="#999" stroke-width="0.8"/>
<line x1="472.2" y1="230.3" x2="478.4" y2="230.3" stroke="#000" stroke-width="1.6"/>
<text x="0" y="0" transform="translate(481 232.45) scale(0.9 1)" font-size="6.1" text-anchor="start" font-weight="normal" font-style="normal" fill="#111" stroke="#111" stroke-width="0.15">initial UHMWPE</text>
<text x="0" y="0" transform="translate(472.8 238.95) scale(0.94 1)" font-size="6.1" text-anchor="start" font-weight="bold" font-style="italic" fill="#111" stroke="#111" stroke-width="0.15">UHMWPE+1 wt. MBT+...</text>
<line x1="472.2" y1="243.3" x2="478.4" y2="243.3" stroke="#c0b8f0" stroke-width="1.5" stroke-dasharray="2.6 1.1 2.6 9"/>
<text x="0" y="0" transform="translate(481 245.45) scale(0.9 1)" font-size="6.1" text-anchor="start" font-weight="normal" font-style="normal" fill="#111" stroke="#111" stroke-width="0.15">+ 0.5 wt.% WB</text>
<line x1="472.2" y1="249.8" x2="478.4" y2="249.8" stroke="#c060e0" stroke-width="1.5" stroke-dasharray="2.6 1.1 2.6 9"/>
<text x="0" y="0" transform="translate(481 251.95) scale(0.9 1)" font-size="6.1" text-anchor="start" font-weight="normal" font-style="normal" fill="#111" stroke="#111" stroke-width="0.15">+ 1 wt.% WB</text>
<line x1="472.2" y1="256.3" x2="478.4" y2="256.3" stroke="#8020c0" stroke-width="1.5" stroke-dasharray="2.6 1.1 2.6 9"/>
<text x="0" y="0" transform="translate(481 258.45) scale(0.9 1)" font-size="6.1" text-anchor="start" font-weight="normal" font-style="normal" fill="#111" stroke="#111" stroke-width="0.15">+ 2 wt.% WB</text>
<line x1="472.2" y1="262.8" x2="478.4" y2="262.8" stroke="#502080" stroke-width="1.5" stroke-dasharray="2.6 1.1 2.6 9"/>
<text x="0" y="0" transform="translate(481 264.95) scale(0.9 1)" font-size="6.1" text-anchor="start" font-weight="normal" font-style="normal" fill="#111" stroke="#111" stroke-width="0.15">+ 5 wt.% WB</text>
</svg>
</body></html>
